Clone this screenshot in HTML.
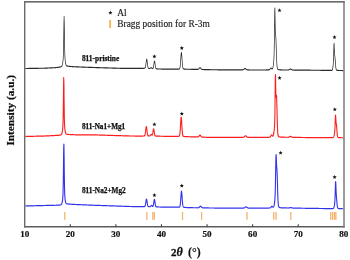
<!DOCTYPE html><html><head><meta charset="utf-8"><style>html,body{margin:0;padding:0;background:#fff;}svg{display:block;}text{font-family:"Liberation Serif","Times New Roman",serif;}</style></head><body>
<svg width="350" height="260" viewBox="0 0 350 260">
<rect width="350" height="260" fill="#fff"/>
<defs><filter id="bl" x="-5%" y="-5%" width="110%" height="110%"><feGaussianBlur stdDeviation="0.35"/></filter></defs>
<g filter="url(#bl)">
<polyline transform="scale(0.6250,1)" fill="none" stroke="#2a2a2a" stroke-width="1.15" stroke-linejoin="round" points="40.48,68.49 40.80,68.49 41.12,68.49 41.44,68.48 41.76,68.48 42.08,68.48 42.40,68.48 42.72,68.47 43.04,68.47 43.36,68.47 43.68,68.46 44.00,68.46 44.32,68.46 44.64,68.45 44.96,68.45 45.28,68.45 45.60,68.45 45.92,68.44 46.24,68.44 46.56,68.44 46.88,68.43 47.20,68.43 47.52,68.43 47.84,68.42 48.16,68.42 48.48,68.42 48.80,68.41 49.12,68.41 49.44,68.41 49.76,68.41 50.08,68.40 50.40,68.40 50.72,68.40 51.04,68.39 51.36,68.39 51.68,68.39 52.00,68.38 52.32,68.38 52.64,68.38 52.96,68.38 53.28,68.37 53.60,68.37 53.92,68.37 54.24,68.36 54.56,68.36 54.88,68.36 55.20,68.35 55.52,68.35 55.84,68.35 56.16,68.35 56.48,68.34 56.80,68.34 57.12,68.34 57.44,68.33 57.76,68.33 58.08,68.33 58.40,68.32 58.72,68.32 59.04,68.32 59.36,68.31 59.68,68.31 60.00,68.31 60.32,68.31 60.64,68.30 60.96,68.30 61.28,68.30 61.60,68.29 61.92,68.29 62.24,68.29 62.56,68.28 62.88,68.28 63.20,68.28 63.52,68.27 63.84,68.27 64.16,68.27 64.48,68.27 64.80,68.26 65.12,68.26 65.44,68.26 65.76,68.25 66.08,68.25 66.40,68.25 66.72,68.24 67.04,68.24 67.36,68.24 67.68,68.23 68.00,68.23 68.32,68.23 68.64,68.23 68.96,68.22 69.28,68.22 69.60,68.22 69.92,68.21 70.24,68.21 70.56,68.21 70.88,68.20 71.20,68.20 71.52,68.20 71.84,68.19 72.16,68.19 72.48,68.18 72.80,68.17 73.12,68.16 73.44,68.15 73.76,68.14 74.08,68.13 74.40,68.12 74.72,68.11 75.04,68.10 75.36,68.09 75.68,68.08 76.00,68.07 76.32,68.06 76.64,68.04 76.96,68.03 77.28,68.02 77.60,68.01 77.92,68.00 78.24,67.99 78.56,67.98 78.88,67.97 79.20,67.96 79.52,67.95 79.84,67.94 80.16,67.93 80.48,67.92 80.80,67.91 81.12,67.90 81.44,67.89 81.76,67.88 82.08,67.87 82.40,67.86 82.72,67.85 83.04,67.84 83.36,67.83 83.68,67.82 84.00,67.81 84.32,67.79 84.64,67.78 84.96,67.77 85.28,67.76 85.60,67.75 85.92,67.74 86.24,67.73 86.56,67.72 86.88,67.71 87.20,67.70 87.52,67.69 87.84,67.67 88.16,67.66 88.48,67.64 88.80,67.61 89.12,67.59 89.44,67.57 89.76,67.55 90.08,67.53 90.40,67.51 90.72,67.48 91.04,67.46 91.36,67.44 91.68,67.41 92.00,67.39 92.32,67.37 92.64,67.34 92.96,67.32 93.28,67.29 93.60,67.27 93.92,67.24 94.24,67.22 94.56,67.19 94.88,67.16 95.20,67.13 95.52,67.10 95.84,67.07 96.16,67.02 96.48,66.97 96.80,66.91 97.12,66.84 97.44,66.77 97.76,66.69 98.08,66.59 98.40,66.46 98.72,66.27 99.04,66.00 99.36,65.59 99.68,65.00 100.00,64.17 100.32,63.05 100.64,61.59 100.96,59.65 101.28,56.51 101.60,50.20 101.92,38.55 102.24,24.02 102.56,16.65 102.88,23.99 103.20,38.47 103.52,50.07 103.84,56.34 104.16,59.43 104.48,61.33 104.80,62.74 105.12,63.81 105.44,64.60 105.76,65.14 106.08,65.50 106.40,65.73 106.72,65.87 107.04,65.95 107.36,66.02 107.68,66.07 108.00,66.12 108.32,66.15 108.64,66.18 108.96,66.21 109.28,66.24 109.60,66.26 109.92,66.29 110.24,66.31 110.56,66.33 110.88,66.35 111.20,66.37 111.52,66.39 111.84,66.41 112.16,66.42 112.48,66.44 112.80,66.46 113.12,66.47 113.44,66.49 113.76,66.50 114.08,66.52 114.40,66.53 114.72,66.55 115.04,66.56 115.36,66.58 115.68,66.59 116.00,66.61 116.32,66.62 116.64,66.63 116.96,66.65 117.28,66.66 117.60,66.68 117.92,66.69 118.24,66.70 118.56,66.72 118.88,66.73 119.20,66.74 119.52,66.76 119.84,66.77 120.16,66.78 120.48,66.79 120.80,66.80 121.12,66.81 121.44,66.82 121.76,66.83 122.08,66.83 122.40,66.84 122.72,66.85 123.04,66.86 123.36,66.87 123.68,66.88 124.00,66.88 124.32,66.89 124.64,66.90 124.96,66.91 125.28,66.92 125.60,66.93 125.92,66.94 126.24,66.94 126.56,66.95 126.88,66.96 127.20,66.97 127.52,66.98 127.84,66.98 128.16,66.99 128.48,67.00 128.80,67.01 129.12,67.02 129.44,67.03 129.76,67.03 130.08,67.04 130.40,67.05 130.72,67.06 131.04,67.07 131.36,67.08 131.68,67.08 132.00,67.09 132.32,67.10 132.64,67.11 132.96,67.12 133.28,67.12 133.60,67.13 133.92,67.14 134.24,67.15 134.56,67.16 134.88,67.16 135.20,67.17 135.52,67.18 135.84,67.19 136.16,67.20 136.48,67.20 136.80,67.21 137.12,67.22 137.44,67.22 137.76,67.23 138.08,67.24 138.40,67.24 138.72,67.25 139.04,67.26 139.36,67.26 139.68,67.27 140.00,67.28 140.32,67.28 140.64,67.29 140.96,67.30 141.28,67.30 141.60,67.31 141.92,67.32 142.24,67.33 142.56,67.33 142.88,67.34 143.20,67.35 143.52,67.35 143.84,67.36 144.16,67.37 144.48,67.37 144.80,67.38 145.12,67.39 145.44,67.39 145.76,67.40 146.08,67.41 146.40,67.41 146.72,67.42 147.04,67.43 147.36,67.43 147.68,67.44 148.00,67.45 148.32,67.45 148.64,67.46 148.96,67.47 149.28,67.47 149.60,67.48 149.92,67.49 150.24,67.49 150.56,67.50 150.88,67.51 151.20,67.51 151.52,67.52 151.84,67.53 152.16,67.53 152.48,67.54 152.80,67.55 153.12,67.55 153.44,67.56 153.76,67.57 154.08,67.57 154.40,67.58 154.72,67.59 155.04,67.59 155.36,67.60 155.68,67.61 156.00,67.61 156.32,67.62 156.64,67.63 156.96,67.63 157.28,67.64 157.60,67.65 157.92,67.65 158.24,67.66 158.56,67.67 158.88,67.67 159.20,67.68 159.52,67.69 159.84,67.69 160.16,67.70 160.48,67.71 160.80,67.71 161.12,67.72 161.44,67.72 161.76,67.73 162.08,67.74 162.40,67.74 162.72,67.75 163.04,67.75 163.36,67.76 163.68,67.77 164.00,67.77 164.32,67.78 164.64,67.78 164.96,67.79 165.28,67.80 165.60,67.80 165.92,67.81 166.24,67.81 166.56,67.82 166.88,67.83 167.20,67.83 167.52,67.84 167.84,67.84 168.16,67.85 168.48,67.86 168.80,67.86 169.12,67.87 169.44,67.87 169.76,67.88 170.08,67.89 170.40,67.89 170.72,67.90 171.04,67.90 171.36,67.91 171.68,67.92 172.00,67.92 172.32,67.93 172.64,67.93 172.96,67.94 173.28,67.95 173.60,67.95 173.92,67.96 174.24,67.96 174.56,67.97 174.88,67.98 175.20,67.98 175.52,67.99 175.84,67.99 176.16,68.00 176.48,68.01 176.80,68.01 177.12,68.02 177.44,68.02 177.76,68.03 178.08,68.04 178.40,68.04 178.72,68.05 179.04,68.05 179.36,68.06 179.68,68.07 180.00,68.07 180.32,68.08 180.64,68.08 180.96,68.09 181.28,68.10 181.60,68.10 181.92,68.11 182.24,68.11 182.56,68.12 182.88,68.13 183.20,68.13 183.52,68.14 183.84,68.14 184.16,68.15 184.48,68.16 184.80,68.16 185.12,68.17 185.44,68.17 185.76,68.18 186.08,68.19 186.40,68.19 186.72,68.20 187.04,68.20 187.36,68.21 187.68,68.22 188.00,68.22 188.32,68.23 188.64,68.23 188.96,68.24 189.28,68.25 189.60,68.25 189.92,68.26 190.24,68.26 190.56,68.27 190.88,68.28 191.20,68.28 191.52,68.29 191.84,68.29 192.16,68.30 192.48,68.30 192.80,68.30 193.12,68.30 193.44,68.30 193.76,68.30 194.08,68.30 194.40,68.30 194.72,68.30 195.04,68.30 195.36,68.30 195.68,68.31 196.00,68.31 196.32,68.31 196.64,68.31 196.96,68.31 197.28,68.31 197.60,68.31 197.92,68.31 198.24,68.31 198.56,68.31 198.88,68.31 199.20,68.31 199.52,68.31 199.84,68.32 200.16,68.32 200.48,68.32 200.80,68.32 201.12,68.32 201.44,68.32 201.76,68.32 202.08,68.32 202.40,68.32 202.72,68.32 203.04,68.32 203.36,68.32 203.68,68.32 204.00,68.33 204.32,68.33 204.64,68.33 204.96,68.33 205.28,68.33 205.60,68.33 205.92,68.33 206.24,68.33 206.56,68.33 206.88,68.33 207.20,68.33 207.52,68.33 207.84,68.33 208.16,68.33 208.48,68.34 208.80,68.34 209.12,68.34 209.44,68.34 209.76,68.34 210.08,68.34 210.40,68.34 210.72,68.34 211.04,68.34 211.36,68.34 211.68,68.34 212.00,68.34 212.32,68.34 212.64,68.34 212.96,68.35 213.28,68.35 213.60,68.35 213.92,68.35 214.24,68.35 214.56,68.35 214.88,68.35 215.20,68.35 215.52,68.35 215.84,68.35 216.16,68.35 216.48,68.35 216.80,68.35 217.12,68.35 217.44,68.35 217.76,68.35 218.08,68.35 218.40,68.35 218.72,68.36 219.04,68.36 219.36,68.36 219.68,68.36 220.00,68.36 220.32,68.36 220.64,68.36 220.96,68.36 221.28,68.36 221.60,68.36 221.92,68.36 222.24,68.36 222.56,68.36 222.88,68.36 223.20,68.36 223.52,68.36 223.84,68.36 224.16,68.36 224.48,68.36 224.80,68.36 225.12,68.36 225.44,68.36 225.76,68.35 226.08,68.35 226.40,68.35 226.72,68.35 227.04,68.35 227.36,68.35 227.68,68.34 228.00,68.34 228.32,68.34 228.64,68.33 228.96,68.33 229.28,68.32 229.60,68.31 229.92,68.30 230.24,68.29 230.56,68.28 230.88,68.26 231.20,68.22 231.52,68.16 231.84,68.04 232.16,67.81 232.48,67.39 232.80,66.69 233.12,65.62 233.44,64.20 233.76,62.54 234.08,60.90 234.40,59.66 234.72,59.20 235.04,59.68 235.36,60.94 235.68,62.59 236.00,64.27 236.32,65.72 236.64,66.80 236.96,67.52 237.28,67.95 237.60,68.20 237.92,68.33 238.24,68.40 238.56,68.43 238.88,68.46 239.20,68.46 239.52,68.45 239.84,68.41 240.16,68.34 240.48,68.23 240.80,68.08 241.12,67.92 241.44,67.78 241.76,67.70 242.08,67.71 242.40,67.80 242.72,67.96 243.04,68.13 243.36,68.28 243.68,68.40 244.00,68.46 244.32,68.46 244.64,68.36 244.96,68.10 245.28,67.61 245.60,66.78 245.92,65.59 246.24,64.13 246.56,62.62 246.88,61.44 247.20,61.00 247.52,61.47 247.84,62.66 248.16,64.20 248.48,65.69 248.80,66.90 249.12,67.75 249.44,68.28 249.76,68.57 250.08,68.73 250.40,68.81 250.72,68.86 251.04,68.89 251.36,68.91 251.68,68.92 252.00,68.93 252.32,68.95 252.64,68.95 252.96,68.96 253.28,68.97 253.60,68.98 253.92,68.98 254.24,68.99 254.56,69.00 254.88,69.00 255.20,69.01 255.52,69.01 255.84,69.02 256.16,69.02 256.48,69.02 256.80,69.03 257.12,69.03 257.44,69.04 257.76,69.04 258.08,69.04 258.40,69.05 258.72,69.05 259.04,69.06 259.36,69.06 259.68,69.06 260.00,69.07 260.32,69.07 260.64,69.07 260.96,69.08 261.28,69.08 261.60,69.08 261.92,69.09 262.24,69.09 262.56,69.09 262.88,69.10 263.20,69.10 263.52,69.10 263.84,69.11 264.16,69.11 264.48,69.11 264.80,69.12 265.12,69.12 265.44,69.12 265.76,69.13 266.08,69.13 266.40,69.13 266.72,69.14 267.04,69.14 267.36,69.14 267.68,69.14 268.00,69.15 268.32,69.15 268.64,69.15 268.96,69.16 269.28,69.16 269.60,69.16 269.92,69.17 270.24,69.17 270.56,69.17 270.88,69.17 271.20,69.18 271.52,69.18 271.84,69.18 272.16,69.18 272.48,69.18 272.80,69.19 273.12,69.19 273.44,69.19 273.76,69.19 274.08,69.19 274.40,69.19 274.72,69.19 275.04,69.19 275.36,69.19 275.68,69.19 276.00,69.19 276.32,69.19 276.64,69.19 276.96,69.19 277.28,69.19 277.60,69.19 277.92,69.19 278.24,69.19 278.56,69.19 278.88,69.19 279.20,69.19 279.52,69.19 279.84,69.19 280.16,69.19 280.48,69.18 280.80,69.18 281.12,69.18 281.44,69.18 281.76,69.18 282.08,69.17 282.40,69.17 282.72,69.17 283.04,69.16 283.36,69.16 283.68,69.15 284.00,69.14 284.32,69.13 284.64,69.12 284.96,69.11 285.28,69.10 285.60,69.08 285.92,69.06 286.24,69.02 286.56,68.98 286.88,68.89 287.20,68.73 287.52,68.42 287.84,67.84 288.16,66.81 288.48,65.19 288.80,62.89 289.12,60.00 289.44,56.89 289.76,54.14 290.08,52.50 290.40,52.50 290.72,54.15 291.04,56.89 291.36,60.01 291.68,62.90 292.00,65.20 292.32,66.83 292.64,67.85 292.96,68.44 293.28,68.75 293.60,68.91 293.92,69.00 294.24,69.05 294.56,69.08 294.88,69.11 295.20,69.13 295.52,69.15 295.84,69.16 296.16,69.17 296.48,69.18 296.80,69.19 297.12,69.20 297.44,69.21 297.76,69.21 298.08,69.22 298.40,69.22 298.72,69.23 299.04,69.23 299.36,69.24 299.68,69.24 300.00,69.25 300.32,69.25 300.64,69.25 300.96,69.26 301.28,69.26 301.60,69.26 301.92,69.26 302.24,69.27 302.56,69.27 302.88,69.27 303.20,69.27 303.52,69.27 303.84,69.28 304.16,69.28 304.48,69.28 304.80,69.29 305.12,69.29 305.44,69.30 305.76,69.30 306.08,69.31 306.40,69.31 306.72,69.31 307.04,69.32 307.36,69.32 307.68,69.33 308.00,69.33 308.32,69.34 308.64,69.34 308.96,69.34 309.28,69.35 309.60,69.35 309.92,69.36 310.24,69.36 310.56,69.36 310.88,69.37 311.20,69.37 311.52,69.37 311.84,69.38 312.16,69.38 312.48,69.38 312.80,69.39 313.12,69.39 313.44,69.39 313.76,69.40 314.08,69.40 314.40,69.40 314.72,69.40 315.04,69.40 315.36,69.40 315.68,69.40 316.00,69.39 316.32,69.36 316.64,69.33 316.96,69.27 317.28,69.18 317.60,69.06 317.92,68.89 318.24,68.69 318.56,68.45 318.88,68.21 319.20,67.98 319.52,67.80 319.84,67.70 320.16,67.70 320.48,67.81 320.80,68.00 321.12,68.23 321.44,68.49 321.76,68.73 322.08,68.94 322.40,69.12 322.72,69.25 323.04,69.35 323.36,69.41 323.68,69.46 324.00,69.49 324.32,69.51 324.64,69.52 324.96,69.53 325.28,69.54 325.60,69.54 325.92,69.55 326.24,69.56 326.56,69.56 326.88,69.57 327.20,69.57 327.52,69.58 327.84,69.58 328.16,69.59 328.48,69.59 328.80,69.60 329.12,69.60 329.44,69.61 329.76,69.61 330.08,69.62 330.40,69.62 330.72,69.62 331.04,69.63 331.36,69.63 331.68,69.64 332.00,69.64 332.32,69.65 332.64,69.65 332.96,69.65 333.28,69.66 333.60,69.66 333.92,69.67 334.24,69.67 334.56,69.67 334.88,69.68 335.20,69.68 335.52,69.69 335.84,69.69 336.16,69.69 336.48,69.70 336.80,69.70 337.12,69.70 337.44,69.71 337.76,69.71 338.08,69.71 338.40,69.71 338.72,69.72 339.04,69.72 339.36,69.72 339.68,69.73 340.00,69.73 340.32,69.73 340.64,69.73 340.96,69.74 341.28,69.74 341.60,69.74 341.92,69.74 342.24,69.75 342.56,69.75 342.88,69.75 343.20,69.76 343.52,69.76 343.84,69.76 344.16,69.76 344.48,69.77 344.80,69.77 345.12,69.77 345.44,69.77 345.76,69.78 346.08,69.78 346.40,69.78 346.72,69.78 347.04,69.79 347.36,69.79 347.68,69.79 348.00,69.80 348.32,69.80 348.64,69.80 348.96,69.80 349.28,69.81 349.60,69.81 349.92,69.81 350.24,69.81 350.56,69.82 350.88,69.82 351.20,69.82 351.52,69.82 351.84,69.83 352.16,69.83 352.48,69.83 352.80,69.84 353.12,69.84 353.44,69.84 353.76,69.84 354.08,69.85 354.40,69.85 354.72,69.85 355.04,69.85 355.36,69.86 355.68,69.86 356.00,69.86 356.32,69.86 356.64,69.87 356.96,69.87 357.28,69.87 357.60,69.88 357.92,69.88 358.24,69.88 358.56,69.88 358.88,69.89 359.20,69.89 359.52,69.89 359.84,69.89 360.16,69.90 360.48,69.90 360.80,69.90 361.12,69.90 361.44,69.90 361.76,69.90 362.08,69.90 362.40,69.90 362.72,69.90 363.04,69.90 363.36,69.90 363.68,69.90 364.00,69.90 364.32,69.90 364.64,69.90 364.96,69.90 365.28,69.90 365.60,69.90 365.92,69.91 366.24,69.91 366.56,69.91 366.88,69.91 367.20,69.91 367.52,69.91 367.84,69.91 368.16,69.91 368.48,69.91 368.80,69.91 369.12,69.91 369.44,69.91 369.76,69.91 370.08,69.91 370.40,69.91 370.72,69.91 371.04,69.91 371.36,69.91 371.68,69.91 372.00,69.92 372.32,69.92 372.64,69.92 372.96,69.92 373.28,69.92 373.60,69.92 373.92,69.92 374.24,69.92 374.56,69.92 374.88,69.92 375.20,69.92 375.52,69.92 375.84,69.92 376.16,69.92 376.48,69.92 376.80,69.92 377.12,69.92 377.44,69.92 377.76,69.92 378.08,69.92 378.40,69.92 378.72,69.92 379.04,69.92 379.36,69.93 379.68,69.93 380.00,69.93 380.32,69.93 380.64,69.93 380.96,69.93 381.28,69.93 381.60,69.93 381.92,69.93 382.24,69.93 382.56,69.93 382.88,69.93 383.20,69.93 383.52,69.93 383.84,69.93 384.16,69.93 384.48,69.93 384.80,69.93 385.12,69.92 385.44,69.92 385.76,69.92 386.08,69.92 386.40,69.92 386.72,69.91 387.04,69.90 387.36,69.89 387.68,69.88 388.00,69.85 388.32,69.81 388.64,69.76 388.96,69.68 389.28,69.59 389.60,69.48 389.92,69.34 390.24,69.19 390.56,69.04 390.88,68.89 391.20,68.75 391.52,68.65 391.84,68.60 392.16,68.60 392.48,68.65 392.80,68.76 393.12,68.89 393.44,69.04 393.76,69.20 394.08,69.35 394.40,69.48 394.72,69.60 395.04,69.69 395.36,69.77 395.68,69.82 396.00,69.86 396.32,69.89 396.64,69.91 396.96,69.92 397.28,69.93 397.60,69.93 397.92,69.94 398.24,69.94 398.56,69.94 398.88,69.95 399.20,69.95 399.52,69.95 399.84,69.95 400.16,69.95 400.48,69.95 400.80,69.95 401.12,69.95 401.44,69.96 401.76,69.96 402.08,69.96 402.40,69.96 402.72,69.96 403.04,69.96 403.36,69.96 403.68,69.96 404.00,69.96 404.32,69.96 404.64,69.96 404.96,69.96 405.28,69.96 405.60,69.97 405.92,69.97 406.24,69.97 406.56,69.97 406.88,69.97 407.20,69.97 407.52,69.97 407.84,69.97 408.16,69.97 408.48,69.97 408.80,69.97 409.12,69.97 409.44,69.97 409.76,69.97 410.08,69.97 410.40,69.97 410.72,69.97 411.04,69.97 411.36,69.97 411.68,69.97 412.00,69.97 412.32,69.97 412.64,69.97 412.96,69.97 413.28,69.97 413.60,69.97 413.92,69.97 414.24,69.97 414.56,69.97 414.88,69.97 415.20,69.97 415.52,69.97 415.84,69.97 416.16,69.97 416.48,69.97 416.80,69.97 417.12,69.97 417.44,69.97 417.76,69.97 418.08,69.97 418.40,69.97 418.72,69.97 419.04,69.97 419.36,69.97 419.68,69.97 420.00,69.97 420.32,69.97 420.64,69.97 420.96,69.97 421.28,69.97 421.60,69.97 421.92,69.97 422.24,69.96 422.56,69.96 422.88,69.96 423.20,69.96 423.52,69.96 423.84,69.96 424.16,69.96 424.48,69.95 424.80,69.95 425.12,69.95 425.44,69.95 425.76,69.94 426.08,69.94 426.40,69.94 426.72,69.93 427.04,69.93 427.36,69.93 427.68,69.92 428.00,69.92 428.32,69.91 428.64,69.90 428.96,69.90 429.28,69.89 429.60,69.88 429.92,69.86 430.24,69.83 430.56,69.79 430.88,69.73 431.20,69.62 431.52,69.46 431.84,69.23 432.16,68.95 432.48,68.64 432.80,68.33 433.12,68.10 433.44,68.00 433.76,68.05 434.08,68.22 434.40,68.45 434.72,68.68 435.04,68.85 435.36,68.90 435.68,68.82 436.00,68.57 436.32,68.11 436.64,67.41 436.96,66.43 437.28,65.14 437.60,63.52 437.92,61.55 438.24,59.00 438.56,54.58 438.88,45.04 439.20,28.19 439.52,10.95 439.84,8.00 440.16,19.25 440.48,30.10 440.80,34.34 441.12,35.49 441.44,37.94 441.76,42.92 442.08,49.35 442.40,55.70 442.72,60.91 443.04,64.56 443.36,66.83 443.68,68.10 444.00,68.77 444.32,69.12 444.64,69.32 444.96,69.44 445.28,69.53 445.60,69.60 445.92,69.65 446.24,69.69 446.56,69.73 446.88,69.76 447.20,69.78 447.52,69.80 447.84,69.83 448.16,69.84 448.48,69.86 448.80,69.87 449.12,69.89 449.44,69.90 449.76,69.91 450.08,69.92 450.40,69.93 450.72,69.93 451.04,69.94 451.36,69.95 451.68,69.95 452.00,69.96 452.32,69.96 452.64,69.97 452.96,69.97 453.28,69.98 453.60,69.98 453.92,69.98 454.24,69.99 454.56,69.99 454.88,69.99 455.20,70.00 455.52,70.00 455.84,70.00 456.16,70.00 456.48,70.01 456.80,70.01 457.12,70.01 457.44,70.01 457.76,70.01 458.08,70.01 458.40,70.02 458.72,70.02 459.04,70.02 459.36,70.02 459.68,70.01 460.00,70.01 460.32,70.01 460.64,70.00 460.96,69.98 461.28,69.96 461.60,69.93 461.92,69.88 462.24,69.81 462.56,69.73 462.88,69.63 463.20,69.51 463.52,69.39 463.84,69.28 464.16,69.19 464.48,69.12 464.80,69.10 465.12,69.12 465.44,69.19 465.76,69.29 466.08,69.40 466.40,69.52 466.72,69.64 467.04,69.74 467.36,69.83 467.68,69.90 468.00,69.95 468.32,69.98 468.64,70.01 468.96,70.03 469.28,70.04 469.60,70.05 469.92,70.05 470.24,70.05 470.56,70.06 470.88,70.06 471.20,70.06 471.52,70.06 471.84,70.06 472.16,70.07 472.48,70.07 472.80,70.07 473.12,70.07 473.44,70.07 473.76,70.07 474.08,70.07 474.40,70.07 474.72,70.07 475.04,70.08 475.36,70.08 475.68,70.08 476.00,70.08 476.32,70.08 476.64,70.08 476.96,70.08 477.28,70.08 477.60,70.08 477.92,70.08 478.24,70.08 478.56,70.08 478.88,70.09 479.20,70.09 479.52,70.09 479.84,70.09 480.16,70.09 480.48,70.09 480.80,70.09 481.12,70.10 481.44,70.10 481.76,70.10 482.08,70.10 482.40,70.10 482.72,70.11 483.04,70.11 483.36,70.11 483.68,70.11 484.00,70.11 484.32,70.12 484.64,70.12 484.96,70.12 485.28,70.12 485.60,70.13 485.92,70.13 486.24,70.13 486.56,70.13 486.88,70.13 487.20,70.14 487.52,70.14 487.84,70.14 488.16,70.14 488.48,70.14 488.80,70.15 489.12,70.15 489.44,70.15 489.76,70.15 490.08,70.15 490.40,70.16 490.72,70.16 491.04,70.16 491.36,70.16 491.68,70.16 492.00,70.17 492.32,70.17 492.64,70.17 492.96,70.17 493.28,70.17 493.60,70.18 493.92,70.18 494.24,70.18 494.56,70.18 494.88,70.18 495.20,70.19 495.52,70.19 495.84,70.19 496.16,70.19 496.48,70.19 496.80,70.20 497.12,70.20 497.44,70.20 497.76,70.20 498.08,70.20 498.40,70.21 498.72,70.21 499.04,70.21 499.36,70.21 499.68,70.21 500.00,70.22 500.32,70.22 500.64,70.22 500.96,70.22 501.28,70.22 501.60,70.23 501.92,70.23 502.24,70.23 502.56,70.23 502.88,70.23 503.20,70.24 503.52,70.24 503.84,70.24 504.16,70.24 504.48,70.24 504.80,70.25 505.12,70.25 505.44,70.25 505.76,70.25 506.08,70.25 506.40,70.26 506.72,70.26 507.04,70.26 507.36,70.26 507.68,70.26 508.00,70.26 508.32,70.27 508.64,70.27 508.96,70.27 509.28,70.27 509.60,70.27 509.92,70.28 510.24,70.28 510.56,70.28 510.88,70.28 511.20,70.28 511.52,70.28 511.84,70.29 512.16,70.29 512.48,70.29 512.80,70.29 513.12,70.30 513.44,70.30 513.76,70.30 514.08,70.30 514.40,70.30 514.72,70.31 515.04,70.31 515.36,70.31 515.68,70.31 516.00,70.31 516.32,70.32 516.64,70.32 516.96,70.32 517.28,70.32 517.60,70.33 517.92,70.33 518.24,70.33 518.56,70.33 518.88,70.33 519.20,70.33 519.52,70.34 519.84,70.34 520.16,70.34 520.48,70.34 520.80,70.34 521.12,70.34 521.44,70.34 521.76,70.35 522.08,70.35 522.40,70.35 522.72,70.35 523.04,70.35 523.36,70.35 523.68,70.35 524.00,70.35 524.32,70.35 524.64,70.35 524.96,70.35 525.28,70.35 525.60,70.35 525.92,70.35 526.24,70.35 526.56,70.34 526.88,70.34 527.20,70.34 527.52,70.33 527.84,70.33 528.16,70.32 528.48,70.32 528.80,70.32 529.12,70.32 529.44,70.33 529.76,70.35 530.08,70.39 530.40,70.45 530.72,70.48 531.04,70.46 531.36,70.32 531.68,69.97 532.00,69.36 532.32,68.46 532.64,67.28 532.96,65.78 533.28,63.49 533.60,59.16 533.92,51.93 534.24,44.68 534.56,43.40 534.88,48.06 535.20,52.75 535.52,55.05 535.84,56.40 536.16,58.41 536.48,61.17 536.80,64.04 537.12,66.44 537.44,68.12 537.76,69.14 538.08,69.70 538.40,69.98 538.72,70.13 539.04,70.21 539.36,70.27 539.68,70.31 540.00,70.34 540.32,70.36 540.64,70.38 540.96,70.40 541.28,70.41 541.60,70.42 541.92,70.44 542.24,70.45 542.56,70.46 542.88,70.47 543.20,70.47 543.52,70.48 543.84,70.49 544.16,70.50 544.48,70.50 544.80,70.51 545.12,70.51 545.44,70.52 545.76,70.52 546.08,70.53 546.40,70.53 546.72,70.54 547.04,70.54 547.36,70.55 547.68,70.55 548.00,70.55 548.32,70.56 548.64,70.56 548.96,70.57 549.28,70.57"/>
<polyline transform="scale(0.9091,1)" fill="none" stroke="#ff1c1c" stroke-width="1.2" stroke-linejoin="round" points="27.83,136.49 28.05,136.49 28.27,136.48 28.49,136.48 28.71,136.47 28.93,136.47 29.15,136.46 29.37,136.46 29.59,136.45 29.81,136.45 30.03,136.44 30.25,136.44 30.47,136.43 30.69,136.43 30.91,136.42 31.13,136.42 31.35,136.41 31.57,136.41 31.79,136.40 32.01,136.39 32.23,136.39 32.45,136.38 32.67,136.38 32.89,136.37 33.11,136.37 33.33,136.36 33.55,136.36 33.77,136.35 33.99,136.35 34.21,136.34 34.43,136.34 34.65,136.33 34.87,136.33 35.09,136.32 35.31,136.32 35.53,136.31 35.75,136.31 35.97,136.30 36.19,136.30 36.41,136.29 36.63,136.29 36.85,136.28 37.07,136.28 37.29,136.27 37.51,136.27 37.73,136.26 37.95,136.26 38.17,136.25 38.39,136.25 38.61,136.24 38.83,136.24 39.05,136.23 39.27,136.23 39.49,136.22 39.71,136.22 39.93,136.21 40.15,136.21 40.37,136.20 40.59,136.20 40.81,136.19 41.03,136.19 41.25,136.18 41.47,136.18 41.69,136.17 41.91,136.17 42.13,136.16 42.35,136.16 42.57,136.15 42.79,136.15 43.01,136.14 43.23,136.14 43.45,136.13 43.67,136.13 43.89,136.12 44.11,136.12 44.33,136.11 44.55,136.11 44.77,136.10 44.99,136.10 45.21,136.09 45.43,136.09 45.65,136.08 45.87,136.08 46.09,136.07 46.31,136.07 46.53,136.06 46.75,136.06 46.97,136.05 47.19,136.05 47.41,136.04 47.63,136.04 47.85,136.03 48.07,136.03 48.29,136.02 48.51,136.02 48.73,136.01 48.95,136.01 49.17,136.00 49.39,135.99 49.61,135.99 49.83,135.98 50.05,135.97 50.27,135.96 50.49,135.95 50.71,135.94 50.93,135.93 51.15,135.92 51.37,135.91 51.59,135.90 51.81,135.89 52.03,135.88 52.25,135.87 52.47,135.86 52.69,135.85 52.91,135.84 53.13,135.83 53.35,135.82 53.57,135.82 53.79,135.81 54.01,135.80 54.23,135.79 54.45,135.78 54.67,135.77 54.89,135.76 55.11,135.75 55.33,135.74 55.55,135.73 55.77,135.72 55.99,135.71 56.21,135.70 56.43,135.69 56.65,135.68 56.87,135.67 57.09,135.66 57.31,135.65 57.53,135.64 57.75,135.63 57.97,135.62 58.19,135.61 58.41,135.60 58.63,135.59 58.85,135.58 59.07,135.57 59.29,135.56 59.51,135.55 59.73,135.54 59.95,135.53 60.17,135.51 60.39,135.50 60.61,135.49 60.83,135.48 61.05,135.47 61.27,135.46 61.49,135.45 61.71,135.44 61.93,135.43 62.15,135.41 62.37,135.40 62.59,135.39 62.81,135.38 63.03,135.36 63.25,135.35 63.47,135.34 63.69,135.32 63.91,135.31 64.13,135.29 64.35,135.28 64.57,135.26 64.79,135.24 65.01,135.22 65.23,135.20 65.45,135.18 65.67,135.16 65.89,135.13 66.11,135.09 66.33,135.04 66.55,134.97 66.77,134.90 66.99,134.81 67.21,134.69 67.43,134.52 67.65,134.27 67.87,133.91 68.09,133.37 68.31,132.61 68.53,131.56 68.75,130.20 68.97,128.46 69.19,125.92 69.41,120.79 69.63,109.44 69.85,91.44 70.07,77.70 70.29,82.86 70.51,100.79 70.73,115.96 70.95,123.69 71.17,127.12 71.39,129.11 71.61,130.61 71.83,131.77 72.05,132.62 72.27,133.22 72.49,133.63 72.71,133.88 72.93,134.04 73.15,134.14 73.37,134.20 73.59,134.24 73.81,134.28 74.03,134.31 74.25,134.34 74.47,134.36 74.69,134.39 74.91,134.41 75.13,134.42 75.35,134.44 75.57,134.46 75.79,134.47 76.01,134.49 76.23,134.50 76.45,134.52 76.67,134.53 76.89,134.54 77.11,134.55 77.33,134.56 77.55,134.57 77.77,134.58 77.99,134.59 78.21,134.60 78.43,134.61 78.65,134.62 78.87,134.63 79.09,134.64 79.31,134.65 79.53,134.66 79.75,134.67 79.97,134.68 80.19,134.69 80.41,134.70 80.63,134.71 80.85,134.72 81.07,134.72 81.29,134.73 81.51,134.74 81.73,134.75 81.95,134.76 82.17,134.77 82.39,134.77 82.61,134.78 82.83,134.78 83.05,134.78 83.27,134.78 83.49,134.79 83.71,134.79 83.93,134.79 84.15,134.79 84.37,134.79 84.59,134.79 84.81,134.80 85.03,134.80 85.25,134.80 85.47,134.80 85.69,134.80 85.91,134.80 86.13,134.80 86.35,134.80 86.57,134.81 86.79,134.81 87.01,134.81 87.23,134.81 87.45,134.81 87.67,134.81 87.89,134.81 88.11,134.81 88.33,134.82 88.55,134.82 88.77,134.82 88.99,134.82 89.21,134.82 89.43,134.82 89.65,134.82 89.87,134.82 90.09,134.83 90.31,134.83 90.53,134.83 90.75,134.83 90.97,134.83 91.19,134.83 91.41,134.83 91.63,134.83 91.85,134.84 92.07,134.84 92.29,134.84 92.51,134.84 92.73,134.84 92.95,134.84 93.17,134.84 93.39,134.84 93.61,134.84 93.83,134.85 94.05,134.85 94.27,134.85 94.49,134.85 94.71,134.85 94.93,134.85 95.15,134.85 95.37,134.85 95.59,134.85 95.81,134.85 96.03,134.86 96.25,134.86 96.47,134.86 96.69,134.86 96.91,134.86 97.13,134.86 97.35,134.86 97.57,134.86 97.79,134.86 98.01,134.87 98.23,134.87 98.45,134.87 98.67,134.87 98.89,134.87 99.11,134.87 99.33,134.87 99.55,134.87 99.77,134.87 99.99,134.88 100.21,134.88 100.43,134.88 100.65,134.88 100.87,134.88 101.09,134.88 101.31,134.88 101.53,134.88 101.75,134.88 101.97,134.88 102.19,134.89 102.41,134.89 102.63,134.89 102.85,134.89 103.07,134.89 103.29,134.89 103.51,134.89 103.73,134.89 103.95,134.89 104.17,134.89 104.39,134.90 104.61,134.90 104.83,134.91 105.05,134.91 105.27,134.92 105.49,134.92 105.71,134.93 105.93,134.94 106.15,134.94 106.37,134.95 106.59,134.96 106.81,134.96 107.03,134.97 107.25,134.98 107.47,134.98 107.69,134.99 107.91,134.99 108.13,135.00 108.35,135.01 108.57,135.01 108.79,135.02 109.01,135.03 109.23,135.03 109.45,135.04 109.67,135.04 109.89,135.05 110.11,135.06 110.33,135.06 110.55,135.07 110.77,135.08 110.99,135.08 111.21,135.09 111.43,135.09 111.65,135.10 111.87,135.11 112.09,135.11 112.31,135.12 112.53,135.13 112.75,135.13 112.97,135.14 113.19,135.15 113.41,135.15 113.63,135.16 113.85,135.16 114.07,135.17 114.29,135.18 114.51,135.18 114.73,135.19 114.95,135.20 115.17,135.20 115.39,135.21 115.61,135.21 115.83,135.22 116.05,135.23 116.27,135.23 116.49,135.24 116.71,135.25 116.93,135.25 117.15,135.26 117.37,135.26 117.59,135.27 117.81,135.28 118.03,135.28 118.25,135.29 118.47,135.30 118.69,135.30 118.91,135.31 119.13,135.32 119.35,135.32 119.57,135.33 119.79,135.33 120.01,135.34 120.23,135.35 120.45,135.35 120.67,135.36 120.89,135.37 121.11,135.37 121.33,135.38 121.55,135.38 121.77,135.39 121.99,135.40 122.21,135.40 122.43,135.41 122.65,135.42 122.87,135.42 123.09,135.43 123.31,135.43 123.53,135.44 123.75,135.45 123.97,135.45 124.19,135.46 124.41,135.47 124.63,135.47 124.85,135.48 125.07,135.48 125.29,135.49 125.51,135.50 125.73,135.50 125.95,135.51 126.17,135.52 126.39,135.52 126.61,135.53 126.83,135.53 127.05,135.54 127.27,135.55 127.49,135.55 127.71,135.56 127.93,135.57 128.15,135.57 128.37,135.58 128.59,135.59 128.81,135.59 129.03,135.60 129.25,135.60 129.47,135.61 129.69,135.62 129.91,135.62 130.13,135.63 130.35,135.64 130.57,135.64 130.79,135.65 131.01,135.65 131.23,135.66 131.45,135.67 131.67,135.67 131.89,135.68 132.11,135.69 132.33,135.69 132.55,135.70 132.77,135.70 132.99,135.71 133.21,135.72 133.43,135.72 133.65,135.73 133.87,135.74 134.09,135.74 134.31,135.75 134.53,135.75 134.75,135.76 134.97,135.77 135.19,135.77 135.41,135.78 135.63,135.79 135.85,135.79 136.07,135.80 136.29,135.80 136.51,135.81 136.73,135.82 136.95,135.82 137.17,135.83 137.39,135.84 137.61,135.84 137.83,135.85 138.05,135.85 138.27,135.86 138.49,135.87 138.71,135.87 138.93,135.88 139.15,135.89 139.37,135.89 139.59,135.90 139.81,135.90 140.03,135.91 140.25,135.92 140.47,135.92 140.69,135.93 140.91,135.94 141.13,135.94 141.35,135.95 141.57,135.95 141.79,135.96 142.01,135.97 142.23,135.97 142.45,135.98 142.67,135.98 142.89,135.99 143.11,135.99 143.33,136.00 143.55,136.00 143.77,136.00 143.99,136.00 144.21,136.00 144.43,136.00 144.65,136.00 144.87,136.01 145.09,136.01 145.31,136.01 145.53,136.01 145.75,136.01 145.97,136.01 146.19,136.01 146.41,136.01 146.63,136.02 146.85,136.02 147.07,136.02 147.29,136.02 147.51,136.02 147.73,136.02 147.95,136.02 148.17,136.03 148.39,136.03 148.61,136.03 148.83,136.03 149.05,136.03 149.27,136.03 149.49,136.03 149.71,136.03 149.93,136.03 150.15,136.04 150.37,136.04 150.59,136.04 150.81,136.04 151.03,136.04 151.25,136.04 151.47,136.04 151.69,136.04 151.91,136.04 152.13,136.04 152.35,136.04 152.57,136.05 152.79,136.05 153.01,136.05 153.23,136.05 153.45,136.05 153.67,136.05 153.89,136.05 154.11,136.05 154.33,136.05 154.55,136.05 154.77,136.05 154.99,136.05 155.21,136.05 155.43,136.05 155.65,136.04 155.87,136.04 156.09,136.04 156.31,136.04 156.53,136.03 156.75,136.03 156.97,136.03 157.19,136.02 157.41,136.01 157.63,136.00 157.85,135.99 158.07,135.98 158.29,135.96 158.51,135.92 158.73,135.86 158.95,135.73 159.17,135.49 159.39,135.05 159.61,134.31 159.83,133.20 160.05,131.72 160.27,129.98 160.49,128.28 160.71,126.99 160.93,126.50 161.15,126.99 161.37,128.28 161.59,129.99 161.81,131.72 162.03,133.20 162.25,134.31 162.47,135.05 162.69,135.49 162.91,135.74 163.13,135.86 163.35,135.92 163.57,135.96 163.79,135.97 164.01,135.98 164.23,135.97 164.45,135.93 164.67,135.86 164.89,135.74 165.11,135.56 165.33,135.30 165.55,135.01 165.77,134.71 165.99,134.49 166.21,134.40 166.43,134.47 166.65,134.67 166.87,134.92 167.09,135.12 167.31,135.19 167.53,135.02 167.75,134.52 167.97,133.64 168.19,132.42 168.41,131.00 168.63,129.70 168.85,128.90 169.07,128.91 169.29,129.72 169.51,131.04 169.73,132.48 169.95,133.76 170.17,134.71 170.39,135.34 170.61,135.71 170.83,135.90 171.05,136.00 171.27,136.05 171.49,136.08 171.71,136.09 171.93,136.11 172.15,136.12 172.37,136.13 172.59,136.14 172.81,136.14 173.03,136.15 173.25,136.16 173.47,136.17 173.69,136.17 173.91,136.18 174.13,136.18 174.35,136.19 174.57,136.19 174.79,136.20 175.01,136.20 175.23,136.21 175.45,136.21 175.67,136.21 175.89,136.22 176.11,136.22 176.33,136.22 176.55,136.23 176.77,136.23 176.99,136.24 177.21,136.24 177.43,136.24 177.65,136.25 177.87,136.25 178.09,136.25 178.31,136.26 178.53,136.26 178.75,136.26 178.97,136.27 179.19,136.27 179.41,136.27 179.63,136.27 179.85,136.28 180.07,136.28 180.29,136.28 180.51,136.29 180.73,136.29 180.95,136.29 181.17,136.30 181.39,136.30 181.61,136.30 181.83,136.30 182.05,136.31 182.27,136.31 182.49,136.31 182.71,136.32 182.93,136.32 183.15,136.32 183.37,136.32 183.59,136.33 183.81,136.33 184.03,136.33 184.25,136.34 184.47,136.34 184.69,136.34 184.91,136.34 185.13,136.35 185.35,136.35 185.57,136.35 185.79,136.35 186.01,136.36 186.23,136.36 186.45,136.36 186.67,136.36 186.89,136.37 187.11,136.37 187.33,136.37 187.55,136.37 187.77,136.38 187.99,136.38 188.21,136.38 188.43,136.38 188.65,136.39 188.87,136.39 189.09,136.39 189.31,136.39 189.53,136.39 189.75,136.40 189.97,136.40 190.19,136.40 190.41,136.40 190.63,136.40 190.85,136.40 191.07,136.41 191.29,136.41 191.51,136.41 191.73,136.41 191.95,136.41 192.17,136.41 192.39,136.41 192.61,136.41 192.83,136.41 193.05,136.41 193.27,136.41 193.49,136.41 193.71,136.41 193.93,136.41 194.15,136.40 194.37,136.40 194.59,136.39 194.81,136.39 195.03,136.38 195.25,136.37 195.47,136.36 195.69,136.35 195.91,136.34 196.13,136.32 196.35,136.30 196.57,136.26 196.79,136.21 197.01,136.12 197.23,135.94 197.45,135.59 197.67,134.92 197.89,133.74 198.11,131.88 198.33,129.24 198.55,125.92 198.77,122.34 198.99,119.19 199.21,117.30 199.43,117.30 199.65,119.20 199.87,122.36 200.09,125.95 200.31,129.28 200.53,131.94 200.75,133.81 200.97,134.99 201.19,135.67 201.41,136.04 201.63,136.23 201.85,136.33 202.07,136.39 202.29,136.43 202.51,136.46 202.73,136.49 202.95,136.52 203.17,136.54 203.39,136.55 203.61,136.57 203.83,136.58 204.05,136.60 204.27,136.61 204.49,136.62 204.71,136.63 204.93,136.64 205.15,136.65 205.37,136.66 205.59,136.67 205.81,136.68 206.03,136.68 206.25,136.69 206.47,136.70 206.69,136.71 206.91,136.71 207.13,136.72 207.35,136.73 207.57,136.73 207.79,136.74 208.01,136.75 208.23,136.75 208.45,136.76 208.67,136.77 208.89,136.77 209.11,136.78 209.33,136.78 209.55,136.79 209.77,136.80 209.99,136.80 210.21,136.81 210.43,136.82 210.65,136.82 210.87,136.83 211.09,136.84 211.31,136.84 211.53,136.85 211.75,136.86 211.97,136.86 212.19,136.87 212.41,136.87 212.63,136.88 212.85,136.89 213.07,136.89 213.29,136.90 213.51,136.90 213.73,136.91 213.95,136.91 214.17,136.92 214.39,136.93 214.61,136.93 214.83,136.94 215.05,136.94 215.27,136.95 215.49,136.95 215.71,136.96 215.93,136.96 216.15,136.96 216.37,136.97 216.59,136.97 216.81,136.97 217.03,136.97 217.25,136.96 217.47,136.94 217.69,136.90 217.91,136.84 218.13,136.75 218.35,136.62 218.57,136.45 218.79,136.23 219.01,135.98 219.23,135.73 219.45,135.49 219.67,135.30 219.89,135.20 220.11,135.21 220.33,135.32 220.55,135.52 220.77,135.77 220.99,136.04 221.21,136.30 221.43,136.53 221.65,136.71 221.87,136.85 222.09,136.96 222.31,137.03 222.53,137.08 222.75,137.11 222.97,137.13 223.19,137.15 223.41,137.16 223.63,137.17 223.85,137.18 224.07,137.19 224.29,137.19 224.51,137.20 224.73,137.21 224.95,137.22 225.17,137.22 225.39,137.23 225.61,137.24 225.83,137.24 226.05,137.25 226.27,137.26 226.49,137.26 226.71,137.27 226.93,137.28 227.15,137.28 227.37,137.29 227.59,137.30 227.81,137.30 228.03,137.31 228.25,137.32 228.47,137.32 228.69,137.33 228.91,137.33 229.13,137.34 229.35,137.35 229.57,137.35 229.79,137.36 230.01,137.37 230.23,137.37 230.45,137.38 230.67,137.38 230.89,137.39 231.11,137.39 231.33,137.39 231.55,137.39 231.77,137.39 231.99,137.39 232.21,137.39 232.43,137.39 232.65,137.39 232.87,137.39 233.09,137.39 233.31,137.39 233.53,137.39 233.75,137.39 233.97,137.39 234.19,137.39 234.41,137.39 234.63,137.39 234.85,137.39 235.07,137.39 235.29,137.39 235.51,137.39 235.73,137.39 235.95,137.39 236.17,137.39 236.39,137.39 236.61,137.39 236.83,137.39 237.05,137.39 237.27,137.39 237.49,137.39 237.71,137.39 237.93,137.39 238.15,137.39 238.37,137.39 238.59,137.40 238.81,137.40 239.03,137.40 239.25,137.40 239.47,137.40 239.69,137.40 239.91,137.40 240.13,137.40 240.35,137.40 240.57,137.40 240.79,137.40 241.01,137.40 241.23,137.40 241.45,137.40 241.67,137.40 241.89,137.40 242.11,137.40 242.33,137.40 242.55,137.40 242.77,137.40 242.99,137.40 243.21,137.40 243.43,137.40 243.65,137.40 243.87,137.40 244.09,137.40 244.31,137.40 244.53,137.40 244.75,137.40 244.97,137.40 245.19,137.40 245.41,137.40 245.63,137.40 245.85,137.40 246.07,137.40 246.29,137.40 246.51,137.40 246.73,137.40 246.95,137.40 247.17,137.40 247.39,137.40 247.61,137.40 247.83,137.40 248.05,137.40 248.27,137.40 248.49,137.40 248.71,137.40 248.93,137.40 249.15,137.40 249.37,137.40 249.59,137.40 249.81,137.40 250.03,137.40 250.25,137.40 250.47,137.40 250.69,137.40 250.91,137.40 251.13,137.40 251.35,137.40 251.57,137.41 251.79,137.41 252.01,137.41 252.23,137.41 252.45,137.41 252.67,137.41 252.89,137.41 253.11,137.41 253.33,137.41 253.55,137.41 253.77,137.41 253.99,137.41 254.21,137.41 254.43,137.41 254.65,137.41 254.87,137.41 255.09,137.41 255.31,137.41 255.53,137.41 255.75,137.41 255.97,137.42 256.19,137.42 256.41,137.42 256.63,137.42 256.85,137.42 257.07,137.42 257.29,137.42 257.51,137.42 257.73,137.42 257.95,137.42 258.17,137.42 258.39,137.42 258.61,137.42 258.83,137.42 259.05,137.42 259.27,137.42 259.49,137.42 259.71,137.42 259.93,137.42 260.15,137.42 260.37,137.42 260.59,137.42 260.81,137.42 261.03,137.43 261.25,137.43 261.47,137.43 261.69,137.43 261.91,137.43 262.13,137.43 262.35,137.43 262.57,137.43 262.79,137.43 263.01,137.43 263.23,137.43 263.45,137.43 263.67,137.43 263.89,137.43 264.11,137.43 264.33,137.43 264.55,137.43 264.77,137.43 264.99,137.42 265.21,137.42 265.43,137.42 265.65,137.42 265.87,137.42 266.09,137.42 266.31,137.41 266.53,137.40 266.75,137.39 266.97,137.38 267.19,137.35 267.41,137.32 267.63,137.26 267.85,137.19 268.07,137.10 268.29,136.98 268.51,136.84 268.73,136.67 268.95,136.50 269.17,136.32 269.39,136.15 269.61,136.02 269.83,135.93 270.05,135.90 270.27,135.93 270.49,136.02 270.71,136.16 270.93,136.32 271.15,136.50 271.37,136.68 271.59,136.84 271.81,136.99 272.03,137.11 272.25,137.20 272.47,137.27 272.69,137.33 272.91,137.37 273.13,137.39 273.35,137.41 273.57,137.42 273.79,137.43 274.01,137.43 274.23,137.44 274.45,137.44 274.67,137.44 274.89,137.45 275.11,137.45 275.33,137.45 275.55,137.45 275.77,137.45 275.99,137.45 276.21,137.45 276.43,137.45 276.65,137.46 276.87,137.46 277.09,137.46 277.31,137.46 277.53,137.46 277.75,137.46 277.97,137.46 278.19,137.46 278.41,137.46 278.63,137.46 278.85,137.46 279.07,137.46 279.29,137.46 279.51,137.47 279.73,137.47 279.95,137.47 280.17,137.47 280.39,137.47 280.61,137.47 280.83,137.47 281.05,137.47 281.27,137.47 281.49,137.47 281.71,137.47 281.93,137.47 282.15,137.47 282.37,137.47 282.59,137.47 282.81,137.47 283.03,137.47 283.25,137.47 283.47,137.47 283.69,137.47 283.91,137.47 284.13,137.47 284.35,137.47 284.57,137.47 284.79,137.47 285.01,137.47 285.23,137.47 285.45,137.47 285.67,137.47 285.89,137.47 286.11,137.47 286.33,137.47 286.55,137.47 286.77,137.47 286.99,137.46 287.21,137.46 287.43,137.46 287.65,137.46 287.87,137.45 288.09,137.45 288.31,137.45 288.53,137.45 288.75,137.44 288.97,137.44 289.19,137.44 289.41,137.44 289.63,137.43 289.85,137.43 290.07,137.43 290.29,137.42 290.51,137.42 290.73,137.42 290.95,137.41 291.17,137.41 291.39,137.41 291.61,137.40 291.83,137.40 292.05,137.40 292.27,137.39 292.49,137.39 292.71,137.38 292.93,137.38 293.15,137.37 293.37,137.37 293.59,137.36 293.81,137.36 294.03,137.35 294.25,137.35 294.47,137.34 294.69,137.33 294.91,137.32 295.13,137.31 295.35,137.30 295.57,137.29 295.79,137.28 296.01,137.27 296.23,137.24 296.45,137.21 296.67,137.16 296.89,137.08 297.11,136.94 297.33,136.74 297.55,136.45 297.77,136.10 297.99,135.70 298.21,135.32 298.43,135.03 298.65,134.90 298.87,134.97 299.09,135.19 299.31,135.50 299.53,135.80 299.75,136.03 299.97,136.15 300.19,136.10 300.41,135.87 300.63,135.42 300.85,134.73 301.07,133.75 301.29,132.46 301.51,130.84 301.73,128.90 301.95,126.53 302.17,122.74 302.39,114.13 302.61,96.94 302.83,77.73 303.05,74.50 303.27,86.88 303.49,96.56 303.71,97.61 303.93,95.41 304.15,95.40 304.37,99.54 304.59,106.90 304.81,115.31 305.03,122.88 305.25,128.59 305.47,132.32 305.69,134.46 305.91,135.59 306.13,136.15 306.35,136.44 306.57,136.61 306.79,136.72 307.01,136.80 307.23,136.87 307.45,136.92 307.67,136.96 307.89,136.99 308.11,137.02 308.33,137.05 308.55,137.07 308.77,137.09 308.99,137.11 309.21,137.12 309.43,137.14 309.65,137.15 309.87,137.16 310.09,137.17 310.31,137.18 310.53,137.18 310.75,137.19 310.97,137.19 311.19,137.20 311.41,137.20 311.63,137.21 311.85,137.21 312.07,137.21 312.29,137.22 312.51,137.22 312.73,137.22 312.95,137.22 313.17,137.22 313.39,137.23 313.61,137.23 313.83,137.23 314.05,137.24 314.27,137.24 314.49,137.25 314.71,137.25 314.93,137.25 315.15,137.26 315.37,137.26 315.59,137.26 315.81,137.26 316.03,137.26 316.25,137.26 316.47,137.26 316.69,137.25 316.91,137.24 317.13,137.22 317.35,137.19 317.57,137.14 317.79,137.08 318.01,137.00 318.23,136.90 318.45,136.79 318.67,136.68 318.89,136.57 319.11,136.48 319.33,136.42 319.55,136.40 319.77,136.43 319.99,136.49 320.21,136.59 320.43,136.70 320.65,136.82 320.87,136.94 321.09,137.04 321.31,137.13 321.53,137.20 321.75,137.25 321.97,137.29 322.19,137.32 322.41,137.33 322.63,137.35 322.85,137.36 323.07,137.36 323.29,137.37 323.51,137.37 323.73,137.38 323.95,137.38 324.17,137.38 324.39,137.39 324.61,137.39 324.83,137.39 325.05,137.40 325.27,137.40 325.49,137.40 325.71,137.41 325.93,137.41 326.15,137.41 326.37,137.41 326.59,137.42 326.81,137.42 327.03,137.42 327.25,137.43 327.47,137.43 327.69,137.43 327.91,137.43 328.13,137.44 328.35,137.44 328.57,137.44 328.79,137.44 329.01,137.45 329.23,137.45 329.45,137.45 329.67,137.45 329.89,137.46 330.11,137.46 330.33,137.46 330.55,137.46 330.77,137.47 330.99,137.47 331.21,137.47 331.43,137.47 331.65,137.48 331.87,137.48 332.09,137.48 332.31,137.48 332.53,137.49 332.75,137.49 332.97,137.49 333.19,137.49 333.41,137.50 333.63,137.50 333.85,137.50 334.07,137.50 334.29,137.51 334.51,137.51 334.73,137.51 334.95,137.51 335.17,137.52 335.39,137.52 335.61,137.52 335.83,137.52 336.05,137.52 336.27,137.53 336.49,137.53 336.71,137.53 336.93,137.53 337.15,137.54 337.37,137.54 337.59,137.54 337.81,137.54 338.03,137.55 338.25,137.55 338.47,137.55 338.69,137.55 338.91,137.56 339.13,137.56 339.35,137.56 339.57,137.56 339.79,137.56 340.01,137.57 340.23,137.57 340.45,137.57 340.67,137.57 340.89,137.58 341.11,137.58 341.33,137.58 341.55,137.58 341.77,137.59 341.99,137.59 342.21,137.59 342.43,137.59 342.65,137.59 342.87,137.60 343.09,137.60 343.31,137.60 343.53,137.60 343.75,137.61 343.97,137.61 344.19,137.61 344.41,137.61 344.63,137.61 344.85,137.62 345.07,137.62 345.29,137.62 345.51,137.62 345.73,137.63 345.95,137.63 346.17,137.63 346.39,137.63 346.61,137.64 346.83,137.64 347.05,137.64 347.27,137.64 347.49,137.64 347.71,137.65 347.93,137.65 348.15,137.65 348.37,137.65 348.59,137.66 348.81,137.66 349.03,137.66 349.25,137.66 349.47,137.66 349.69,137.67 349.91,137.67 350.13,137.67 350.35,137.67 350.57,137.68 350.79,137.68 351.01,137.68 351.23,137.68 351.45,137.68 351.67,137.69 351.89,137.69 352.11,137.69 352.33,137.69 352.55,137.69 352.77,137.69 352.99,137.69 353.21,137.69 353.43,137.69 353.65,137.69 353.87,137.69 354.09,137.70 354.31,137.70 354.53,137.70 354.75,137.70 354.97,137.70 355.19,137.70 355.41,137.70 355.63,137.70 355.85,137.70 356.07,137.70 356.29,137.70 356.51,137.70 356.73,137.70 356.95,137.70 357.17,137.70 357.39,137.70 357.61,137.70 357.83,137.70 358.05,137.70 358.27,137.70 358.49,137.70 358.71,137.70 358.93,137.70 359.15,137.70 359.37,137.70 359.59,137.70 359.81,137.70 360.03,137.70 360.25,137.70 360.47,137.70 360.69,137.70 360.91,137.70 361.13,137.70 361.35,137.70 361.57,137.70 361.79,137.70 362.01,137.69 362.23,137.69 362.45,137.69 362.67,137.69 362.89,137.68 363.11,137.68 363.33,137.68 363.55,137.67 363.77,137.67 363.99,137.66 364.21,137.66 364.43,137.65 364.65,137.65 364.87,137.64 365.09,137.63 365.31,137.62 365.53,137.61 365.75,137.60 365.97,137.58 366.19,137.54 366.41,137.47 366.63,137.33 366.85,137.10 367.07,136.74 367.29,136.21 367.51,135.49 367.73,134.56 367.95,133.43 368.17,131.93 368.39,129.44 368.61,124.97 368.83,118.99 369.05,115.20 369.27,116.64 369.49,120.27 369.71,122.63 369.93,123.78 370.15,125.23 370.37,127.55 370.59,130.31 370.81,132.85 371.03,134.80 371.25,136.06 371.47,136.78 371.69,137.16 371.91,137.36 372.13,137.46 372.35,137.52 372.57,137.56 372.79,137.59 373.01,137.61 373.23,137.63 373.45,137.65 373.67,137.66 373.89,137.68 374.11,137.69 374.33,137.69 374.55,137.70 374.77,137.71 374.99,137.72 375.21,137.72 375.43,137.73 375.65,137.73 375.87,137.74 376.09,137.74 376.31,137.75 376.53,137.75 376.75,137.75 376.97,137.76 377.19,137.76 377.41,137.76 377.63,137.76"/>
<polyline transform="scale(0.9091,1)" fill="none" stroke="#3030ec" stroke-width="1.2" stroke-linejoin="round" points="27.83,205.99 28.05,205.99 28.27,205.98 28.49,205.98 28.71,205.97 28.93,205.97 29.15,205.96 29.37,205.96 29.59,205.95 29.81,205.95 30.03,205.94 30.25,205.93 30.47,205.93 30.69,205.92 30.91,205.92 31.13,205.91 31.35,205.91 31.57,205.90 31.79,205.90 32.01,205.89 32.23,205.89 32.45,205.88 32.67,205.88 32.89,205.87 33.11,205.87 33.33,205.86 33.55,205.86 33.77,205.85 33.99,205.85 34.21,205.84 34.43,205.84 34.65,205.83 34.87,205.83 35.09,205.82 35.31,205.82 35.53,205.81 35.75,205.81 35.97,205.80 36.19,205.80 36.41,205.79 36.63,205.79 36.85,205.78 37.07,205.78 37.29,205.77 37.51,205.77 37.73,205.76 37.95,205.76 38.17,205.75 38.39,205.75 38.61,205.74 38.83,205.74 39.05,205.73 39.27,205.73 39.49,205.72 39.71,205.72 39.93,205.71 40.15,205.71 40.37,205.70 40.59,205.70 40.81,205.69 41.03,205.69 41.25,205.68 41.47,205.68 41.69,205.67 41.91,205.67 42.13,205.66 42.35,205.66 42.57,205.65 42.79,205.65 43.01,205.64 43.23,205.64 43.45,205.63 43.67,205.63 43.89,205.62 44.11,205.62 44.33,205.61 44.55,205.61 44.77,205.60 44.99,205.60 45.21,205.59 45.43,205.59 45.65,205.58 45.87,205.58 46.09,205.57 46.31,205.57 46.53,205.56 46.75,205.56 46.97,205.55 47.19,205.55 47.41,205.54 47.63,205.54 47.85,205.53 48.07,205.52 48.29,205.52 48.51,205.51 48.73,205.51 48.95,205.50 49.17,205.50 49.39,205.49 49.61,205.49 49.83,205.49 50.05,205.48 50.27,205.48 50.49,205.47 50.71,205.47 50.93,205.46 51.15,205.46 51.37,205.46 51.59,205.45 51.81,205.45 52.03,205.44 52.25,205.44 52.47,205.43 52.69,205.43 52.91,205.43 53.13,205.42 53.35,205.42 53.57,205.41 53.79,205.41 54.01,205.40 54.23,205.40 54.45,205.40 54.67,205.39 54.89,205.39 55.11,205.38 55.33,205.38 55.55,205.37 55.77,205.37 55.99,205.36 56.21,205.36 56.43,205.35 56.65,205.35 56.87,205.35 57.09,205.34 57.31,205.34 57.53,205.33 57.75,205.33 57.97,205.32 58.19,205.32 58.41,205.31 58.63,205.31 58.85,205.30 59.07,205.30 59.29,205.29 59.51,205.29 59.73,205.28 59.95,205.28 60.17,205.27 60.39,205.26 60.61,205.26 60.83,205.25 61.05,205.25 61.27,205.24 61.49,205.24 61.71,205.23 61.93,205.22 62.15,205.22 62.37,205.21 62.59,205.20 62.81,205.19 63.03,205.19 63.25,205.18 63.47,205.17 63.69,205.16 63.91,205.15 64.13,205.14 64.35,205.13 64.57,205.12 64.79,205.10 65.01,205.09 65.23,205.07 65.45,205.06 65.67,205.04 65.89,205.02 66.11,204.97 66.33,204.91 66.55,204.83 66.77,204.75 66.99,204.65 67.21,204.54 67.43,204.38 67.65,204.16 67.87,203.84 68.09,203.37 68.31,202.70 68.53,201.76 68.75,200.51 68.97,198.81 69.19,196.21 69.41,191.18 69.63,181.06 69.85,164.83 70.07,148.42 70.29,144.00 70.51,155.85 70.73,173.39 70.95,186.71 71.17,193.88 71.39,197.35 71.61,199.34 71.83,200.73 72.05,201.76 72.27,202.50 72.49,203.00 72.71,203.33 72.93,203.54 73.15,203.67 73.37,203.74 73.59,203.79 73.81,203.83 74.03,203.88 74.25,203.91 74.47,203.94 74.69,203.97 74.91,204.00 75.13,204.02 75.35,204.04 75.57,204.06 75.79,204.08 76.01,204.10 76.23,204.12 76.45,204.13 76.67,204.15 76.89,204.16 77.11,204.18 77.33,204.19 77.55,204.21 77.77,204.22 77.99,204.24 78.21,204.25 78.43,204.26 78.65,204.27 78.87,204.29 79.09,204.30 79.31,204.31 79.53,204.32 79.75,204.34 79.97,204.35 80.19,204.36 80.41,204.37 80.63,204.38 80.85,204.39 81.07,204.40 81.29,204.42 81.51,204.43 81.73,204.44 81.95,204.45 82.17,204.46 82.39,204.47 82.61,204.48 82.83,204.49 83.05,204.50 83.27,204.51 83.49,204.52 83.71,204.52 83.93,204.53 84.15,204.54 84.37,204.55 84.59,204.56 84.81,204.57 85.03,204.58 85.25,204.58 85.47,204.59 85.69,204.60 85.91,204.61 86.13,204.62 86.35,204.63 86.57,204.63 86.79,204.64 87.01,204.65 87.23,204.66 87.45,204.67 87.67,204.68 87.89,204.68 88.11,204.69 88.33,204.70 88.55,204.71 88.77,204.72 88.99,204.73 89.21,204.73 89.43,204.74 89.65,204.75 89.87,204.76 90.09,204.77 90.31,204.77 90.53,204.78 90.75,204.79 90.97,204.80 91.19,204.81 91.41,204.82 91.63,204.82 91.85,204.83 92.07,204.84 92.29,204.85 92.51,204.86 92.73,204.86 92.95,204.87 93.17,204.88 93.39,204.89 93.61,204.90 93.83,204.90 94.05,204.91 94.27,204.92 94.49,204.93 94.71,204.94 94.93,204.95 95.15,204.95 95.37,204.96 95.59,204.97 95.81,204.98 96.03,204.99 96.25,204.99 96.47,205.00 96.69,205.01 96.91,205.02 97.13,205.03 97.35,205.03 97.57,205.04 97.79,205.05 98.01,205.06 98.23,205.07 98.45,205.07 98.67,205.08 98.89,205.09 99.11,205.10 99.33,205.11 99.55,205.12 99.77,205.12 99.99,205.13 100.21,205.14 100.43,205.15 100.65,205.16 100.87,205.16 101.09,205.17 101.31,205.18 101.53,205.19 101.75,205.20 101.97,205.20 102.19,205.21 102.41,205.22 102.63,205.23 102.85,205.24 103.07,205.24 103.29,205.25 103.51,205.26 103.73,205.27 103.95,205.28 104.17,205.28 104.39,205.29 104.61,205.30 104.83,205.31 105.05,205.31 105.27,205.32 105.49,205.33 105.71,205.33 105.93,205.34 106.15,205.35 106.37,205.35 106.59,205.36 106.81,205.37 107.03,205.38 107.25,205.38 107.47,205.39 107.69,205.40 107.91,205.40 108.13,205.41 108.35,205.42 108.57,205.42 108.79,205.43 109.01,205.44 109.23,205.44 109.45,205.45 109.67,205.46 109.89,205.46 110.11,205.47 110.33,205.48 110.55,205.49 110.77,205.49 110.99,205.50 111.21,205.51 111.43,205.51 111.65,205.52 111.87,205.53 112.09,205.53 112.31,205.54 112.53,205.55 112.75,205.55 112.97,205.56 113.19,205.57 113.41,205.57 113.63,205.58 113.85,205.59 114.07,205.60 114.29,205.60 114.51,205.61 114.73,205.62 114.95,205.62 115.17,205.63 115.39,205.64 115.61,205.64 115.83,205.65 116.05,205.66 116.27,205.66 116.49,205.67 116.71,205.68 116.93,205.68 117.15,205.69 117.37,205.70 117.59,205.71 117.81,205.71 118.03,205.72 118.25,205.73 118.47,205.73 118.69,205.74 118.91,205.75 119.13,205.75 119.35,205.76 119.57,205.77 119.79,205.77 120.01,205.78 120.23,205.79 120.45,205.79 120.67,205.80 120.89,205.81 121.11,205.81 121.33,205.82 121.55,205.83 121.77,205.84 121.99,205.84 122.21,205.85 122.43,205.86 122.65,205.86 122.87,205.87 123.09,205.88 123.31,205.88 123.53,205.89 123.75,205.90 123.97,205.90 124.19,205.91 124.41,205.92 124.63,205.92 124.85,205.93 125.07,205.94 125.29,205.95 125.51,205.95 125.73,205.96 125.95,205.97 126.17,205.97 126.39,205.98 126.61,205.99 126.83,205.99 127.05,206.00 127.27,206.01 127.49,206.01 127.71,206.02 127.93,206.03 128.15,206.03 128.37,206.04 128.59,206.05 128.81,206.05 129.03,206.06 129.25,206.07 129.47,206.08 129.69,206.08 129.91,206.09 130.13,206.10 130.35,206.10 130.57,206.11 130.79,206.12 131.01,206.12 131.23,206.13 131.45,206.14 131.67,206.14 131.89,206.15 132.11,206.16 132.33,206.16 132.55,206.17 132.77,206.18 132.99,206.18 133.21,206.19 133.43,206.20 133.65,206.21 133.87,206.21 134.09,206.22 134.31,206.23 134.53,206.23 134.75,206.24 134.97,206.25 135.19,206.25 135.41,206.26 135.63,206.27 135.85,206.27 136.07,206.28 136.29,206.29 136.51,206.29 136.73,206.30 136.95,206.31 137.17,206.31 137.39,206.32 137.61,206.33 137.83,206.34 138.05,206.34 138.27,206.35 138.49,206.36 138.71,206.36 138.93,206.37 139.15,206.38 139.37,206.38 139.59,206.39 139.81,206.40 140.03,206.40 140.25,206.41 140.47,206.42 140.69,206.42 140.91,206.43 141.13,206.44 141.35,206.44 141.57,206.45 141.79,206.46 142.01,206.46 142.23,206.47 142.45,206.48 142.67,206.48 142.89,206.49 143.11,206.50 143.33,206.50 143.55,206.50 143.77,206.51 143.99,206.51 144.21,206.51 144.43,206.52 144.65,206.52 144.87,206.53 145.09,206.53 145.31,206.53 145.53,206.54 145.75,206.54 145.97,206.54 146.19,206.55 146.41,206.55 146.63,206.55 146.85,206.56 147.07,206.56 147.29,206.56 147.51,206.57 147.73,206.57 147.95,206.58 148.17,206.58 148.39,206.58 148.61,206.59 148.83,206.59 149.05,206.59 149.27,206.60 149.49,206.60 149.71,206.60 149.93,206.61 150.15,206.61 150.37,206.61 150.59,206.62 150.81,206.62 151.03,206.62 151.25,206.63 151.47,206.63 151.69,206.63 151.91,206.64 152.13,206.64 152.35,206.64 152.57,206.65 152.79,206.65 153.01,206.65 153.23,206.65 153.45,206.66 153.67,206.66 153.89,206.66 154.11,206.67 154.33,206.67 154.55,206.67 154.77,206.67 154.99,206.68 155.21,206.68 155.43,206.68 155.65,206.68 155.87,206.68 156.09,206.68 156.31,206.68 156.53,206.69 156.75,206.69 156.97,206.68 157.19,206.68 157.41,206.68 157.63,206.68 157.85,206.67 158.07,206.67 158.29,206.66 158.51,206.64 158.73,206.62 158.95,206.57 159.17,206.47 159.39,206.28 159.61,205.93 159.83,205.34 160.05,204.45 160.27,203.27 160.49,201.88 160.71,200.52 160.93,199.49 161.15,199.10 161.37,199.49 161.59,200.53 161.81,201.90 162.03,203.29 162.25,204.48 162.47,205.37 162.69,205.97 162.91,206.32 163.13,206.52 163.35,206.62 163.57,206.68 163.79,206.70 164.01,206.72 164.23,206.73 164.45,206.73 164.67,206.72 164.89,206.70 165.11,206.64 165.33,206.54 165.55,206.38 165.77,206.16 165.99,205.91 166.21,205.66 166.43,205.47 166.65,205.40 166.87,205.47 167.09,205.65 167.31,205.89 167.53,206.12 167.75,206.30 167.97,206.36 168.19,206.28 168.41,205.97 168.63,205.36 168.85,204.39 169.07,203.08 169.29,201.59 169.51,200.23 169.73,199.40 169.95,199.41 170.17,200.25 170.39,201.62 170.61,203.13 170.83,204.45 171.05,205.45 171.27,206.11 171.49,206.49 171.71,206.69 171.93,206.80 172.15,206.85 172.37,206.88 172.59,206.90 172.81,206.92 173.03,206.93 173.25,206.94 173.47,206.95 173.69,206.96 173.91,206.97 174.13,206.97 174.35,206.98 174.57,206.98 174.79,206.99 175.01,207.00 175.23,207.00 175.45,207.01 175.67,207.01 175.89,207.01 176.11,207.02 176.33,207.02 176.55,207.03 176.77,207.03 176.99,207.03 177.21,207.04 177.43,207.04 177.65,207.04 177.87,207.05 178.09,207.05 178.31,207.06 178.53,207.06 178.75,207.06 178.97,207.07 179.19,207.07 179.41,207.07 179.63,207.07 179.85,207.08 180.07,207.08 180.29,207.08 180.51,207.09 180.73,207.09 180.95,207.09 181.17,207.10 181.39,207.10 181.61,207.10 181.83,207.11 182.05,207.11 182.27,207.11 182.49,207.11 182.71,207.12 182.93,207.12 183.15,207.12 183.37,207.13 183.59,207.13 183.81,207.13 184.03,207.13 184.25,207.14 184.47,207.14 184.69,207.14 184.91,207.15 185.13,207.15 185.35,207.15 185.57,207.15 185.79,207.16 186.01,207.16 186.23,207.16 186.45,207.16 186.67,207.17 186.89,207.17 187.11,207.17 187.33,207.17 187.55,207.18 187.77,207.18 187.99,207.18 188.21,207.18 188.43,207.19 188.65,207.19 188.87,207.19 189.09,207.19 189.31,207.20 189.53,207.20 189.75,207.20 189.97,207.20 190.19,207.20 190.41,207.21 190.63,207.21 190.85,207.21 191.07,207.21 191.29,207.21 191.51,207.22 191.73,207.22 191.95,207.22 192.17,207.22 192.39,207.22 192.61,207.22 192.83,207.22 193.05,207.22 193.27,207.22 193.49,207.22 193.71,207.22 193.93,207.22 194.15,207.22 194.37,207.22 194.59,207.22 194.81,207.22 195.03,207.21 195.25,207.21 195.47,207.20 195.69,207.19 195.91,207.19 196.13,207.18 196.35,207.17 196.57,207.16 196.79,207.14 197.01,207.11 197.23,207.05 197.45,206.95 197.67,206.74 197.89,206.33 198.11,205.59 198.33,204.35 198.55,202.49 198.77,199.99 198.99,197.07 199.21,194.19 199.43,192.02 199.65,191.20 199.87,192.03 200.09,194.22 200.31,197.11 200.53,200.04 200.75,202.55 200.97,204.43 201.19,205.69 201.41,206.44 201.63,206.86 201.85,207.08 202.07,207.20 202.29,207.27 202.51,207.31 202.73,207.34 202.95,207.37 203.17,207.39 203.39,207.41 203.61,207.43 203.83,207.45 204.05,207.46 204.27,207.48 204.49,207.49 204.71,207.50 204.93,207.52 205.15,207.53 205.37,207.54 205.59,207.55 205.81,207.56 206.03,207.57 206.25,207.58 206.47,207.58 206.69,207.59 206.91,207.60 207.13,207.61 207.35,207.62 207.57,207.63 207.79,207.63 208.01,207.64 208.23,207.65 208.45,207.66 208.67,207.67 208.89,207.67 209.11,207.68 209.33,207.68 209.55,207.69 209.77,207.69 209.99,207.69 210.21,207.70 210.43,207.70 210.65,207.70 210.87,207.71 211.09,207.71 211.31,207.71 211.53,207.72 211.75,207.72 211.97,207.72 212.19,207.73 212.41,207.73 212.63,207.73 212.85,207.74 213.07,207.74 213.29,207.74 213.51,207.75 213.73,207.75 213.95,207.75 214.17,207.75 214.39,207.76 214.61,207.76 214.83,207.76 215.05,207.76 215.27,207.77 215.49,207.77 215.71,207.77 215.93,207.77 216.15,207.77 216.37,207.78 216.59,207.78 216.81,207.78 217.03,207.78 217.25,207.78 217.47,207.77 217.69,207.77 217.91,207.75 218.13,207.73 218.35,207.68 218.57,207.62 218.79,207.52 219.01,207.39 219.23,207.21 219.45,207.01 219.67,206.79 219.89,206.57 220.11,206.38 220.33,206.24 220.55,206.20 220.77,206.25 220.99,206.39 221.21,206.58 221.43,206.81 221.65,207.04 221.87,207.25 222.09,207.43 222.31,207.57 222.53,207.67 222.75,207.75 222.97,207.79 223.19,207.83 223.41,207.85 223.63,207.86 223.85,207.87 224.07,207.88 224.29,207.88 224.51,207.89 224.73,207.89 224.95,207.90 225.17,207.90 225.39,207.91 225.61,207.91 225.83,207.91 226.05,207.92 226.27,207.92 226.49,207.93 226.71,207.93 226.93,207.93 227.15,207.94 227.37,207.94 227.59,207.94 227.81,207.95 228.03,207.95 228.25,207.95 228.47,207.96 228.69,207.96 228.91,207.96 229.13,207.97 229.35,207.97 229.57,207.97 229.79,207.98 230.01,207.98 230.23,207.98 230.45,207.99 230.67,207.99 230.89,207.99 231.11,207.99 231.33,208.00 231.55,208.00 231.77,208.00 231.99,208.00 232.21,208.00 232.43,208.00 232.65,208.00 232.87,208.01 233.09,208.01 233.31,208.01 233.53,208.01 233.75,208.01 233.97,208.01 234.19,208.01 234.41,208.02 234.63,208.02 234.85,208.02 235.07,208.02 235.29,208.02 235.51,208.02 235.73,208.02 235.95,208.03 236.17,208.03 236.39,208.03 236.61,208.03 236.83,208.03 237.05,208.03 237.27,208.03 237.49,208.03 237.71,208.04 237.93,208.04 238.15,208.04 238.37,208.04 238.59,208.04 238.81,208.04 239.03,208.04 239.25,208.05 239.47,208.05 239.69,208.05 239.91,208.05 240.13,208.05 240.35,208.05 240.57,208.05 240.79,208.05 241.01,208.06 241.23,208.06 241.45,208.06 241.67,208.06 241.89,208.06 242.11,208.06 242.33,208.06 242.55,208.07 242.77,208.07 242.99,208.07 243.21,208.07 243.43,208.07 243.65,208.07 243.87,208.07 244.09,208.08 244.31,208.08 244.53,208.08 244.75,208.08 244.97,208.08 245.19,208.08 245.41,208.08 245.63,208.08 245.85,208.09 246.07,208.09 246.29,208.09 246.51,208.09 246.73,208.09 246.95,208.09 247.17,208.09 247.39,208.09 247.61,208.10 247.83,208.10 248.05,208.10 248.27,208.10 248.49,208.10 248.71,208.10 248.93,208.10 249.15,208.10 249.37,208.10 249.59,208.10 249.81,208.10 250.03,208.10 250.25,208.10 250.47,208.10 250.69,208.10 250.91,208.10 251.13,208.10 251.35,208.11 251.57,208.11 251.79,208.11 252.01,208.11 252.23,208.11 252.45,208.11 252.67,208.11 252.89,208.11 253.11,208.11 253.33,208.11 253.55,208.11 253.77,208.11 253.99,208.11 254.21,208.11 254.43,208.11 254.65,208.11 254.87,208.11 255.09,208.11 255.31,208.11 255.53,208.12 255.75,208.12 255.97,208.12 256.19,208.12 256.41,208.12 256.63,208.12 256.85,208.12 257.07,208.12 257.29,208.12 257.51,208.12 257.73,208.12 257.95,208.12 258.17,208.12 258.39,208.12 258.61,208.12 258.83,208.12 259.05,208.12 259.27,208.12 259.49,208.12 259.71,208.12 259.93,208.12 260.15,208.13 260.37,208.13 260.59,208.13 260.81,208.13 261.03,208.13 261.25,208.13 261.47,208.13 261.69,208.13 261.91,208.13 262.13,208.13 262.35,208.13 262.57,208.13 262.79,208.13 263.01,208.13 263.23,208.13 263.45,208.13 263.67,208.13 263.89,208.13 264.11,208.13 264.33,208.13 264.55,208.13 264.77,208.13 264.99,208.13 265.21,208.13 265.43,208.13 265.65,208.13 265.87,208.13 266.09,208.13 266.31,208.13 266.53,208.12 266.75,208.12 266.97,208.12 267.19,208.11 267.41,208.10 267.63,208.08 267.85,208.06 268.07,208.02 268.29,207.97 268.51,207.91 268.73,207.82 268.95,207.71 269.17,207.59 269.39,207.45 269.61,207.31 269.83,207.16 270.05,207.04 270.27,206.95 270.49,206.90 270.71,206.90 270.93,206.95 271.15,207.04 271.37,207.17 271.59,207.31 271.81,207.46 272.03,207.59 272.25,207.72 272.47,207.83 272.69,207.92 272.91,207.98 273.13,208.03 273.35,208.07 273.57,208.10 273.79,208.11 274.01,208.13 274.23,208.13 274.45,208.14 274.67,208.14 274.89,208.15 275.11,208.15 275.33,208.15 275.55,208.15 275.77,208.15 275.99,208.15 276.21,208.15 276.43,208.16 276.65,208.16 276.87,208.16 277.09,208.16 277.31,208.16 277.53,208.16 277.75,208.16 277.97,208.16 278.19,208.16 278.41,208.16 278.63,208.16 278.85,208.16 279.07,208.17 279.29,208.17 279.51,208.17 279.73,208.17 279.95,208.17 280.17,208.17 280.39,208.17 280.61,208.17 280.83,208.17 281.05,208.17 281.27,208.17 281.49,208.17 281.71,208.17 281.93,208.17 282.15,208.17 282.37,208.17 282.59,208.17 282.81,208.17 283.03,208.17 283.25,208.17 283.47,208.17 283.69,208.17 283.91,208.17 284.13,208.17 284.35,208.18 284.57,208.18 284.79,208.18 285.01,208.18 285.23,208.18 285.45,208.18 285.67,208.18 285.89,208.18 286.11,208.18 286.33,208.17 286.55,208.17 286.77,208.17 286.99,208.17 287.21,208.16 287.43,208.16 287.65,208.16 287.87,208.16 288.09,208.16 288.31,208.15 288.53,208.15 288.75,208.15 288.97,208.15 289.19,208.14 289.41,208.14 289.63,208.14 289.85,208.13 290.07,208.13 290.29,208.13 290.51,208.13 290.73,208.12 290.95,208.12 291.17,208.12 291.39,208.11 291.61,208.11 291.83,208.11 292.05,208.10 292.27,208.10 292.49,208.10 292.71,208.09 292.93,208.09 293.15,208.08 293.37,208.08 293.59,208.08 293.81,208.07 294.03,208.07 294.25,208.06 294.47,208.06 294.69,208.05 294.91,208.04 295.13,208.04 295.35,208.03 295.57,208.02 295.79,208.01 296.01,208.00 296.23,207.99 296.45,207.98 296.67,207.96 296.89,207.93 297.11,207.88 297.33,207.80 297.55,207.68 297.77,207.51 297.99,207.28 298.21,207.01 298.43,206.73 298.65,206.48 298.87,206.32 299.09,206.30 299.31,206.40 299.53,206.60 299.75,206.82 299.97,207.02 300.19,207.16 300.41,207.21 300.63,207.16 300.85,206.98 301.07,206.66 301.29,206.16 301.51,205.43 301.73,204.42 301.95,203.09 302.17,201.37 302.39,199.06 302.61,195.53 302.83,189.58 303.05,180.13 303.27,168.12 303.49,157.83 303.71,154.50 303.93,158.02 304.15,163.24 304.37,166.71 304.59,168.96 304.81,172.38 305.03,178.08 305.25,185.22 305.47,192.25 305.69,198.01 305.91,202.05 306.13,204.55 306.35,205.94 306.57,206.67 306.79,207.05 307.01,207.26 307.23,207.39 307.45,207.49 307.67,207.55 307.89,207.61 308.11,207.65 308.33,207.69 308.55,207.72 308.77,207.75 308.99,207.77 309.21,207.79 309.43,207.81 309.65,207.82 309.87,207.83 310.09,207.85 310.31,207.86 310.53,207.87 310.75,207.87 310.97,207.88 311.19,207.89 311.41,207.89 311.63,207.90 311.85,207.90 312.07,207.91 312.29,207.91 312.51,207.91 312.73,207.92 312.95,207.92 313.17,207.92 313.39,207.92 313.61,207.93 313.83,207.93 314.05,207.94 314.27,207.94 314.49,207.95 314.71,207.95 314.93,207.96 315.15,207.96 315.37,207.97 315.59,207.97 315.81,207.98 316.03,207.98 316.25,207.98 316.47,207.99 316.69,207.99 316.91,207.99 317.13,207.99 317.35,207.98 317.57,207.97 317.79,207.95 318.01,207.93 318.23,207.90 318.45,207.86 318.67,207.81 318.89,207.75 319.11,207.70 319.33,207.65 319.55,207.62 319.77,207.60 319.99,207.60 320.21,207.63 320.43,207.67 320.65,207.73 320.87,207.79 321.09,207.85 321.31,207.90 321.53,207.95 321.75,207.99 321.97,208.02 322.19,208.05 322.41,208.06 322.63,208.08 322.85,208.09 323.07,208.09 323.29,208.10 323.51,208.10 323.73,208.11 323.95,208.11 324.17,208.12 324.39,208.12 324.61,208.12 324.83,208.13 325.05,208.13 325.27,208.13 325.49,208.14 325.71,208.14 325.93,208.14 326.15,208.15 326.37,208.15 326.59,208.15 326.81,208.16 327.03,208.16 327.25,208.16 327.47,208.17 327.69,208.17 327.91,208.17 328.13,208.18 328.35,208.18 328.57,208.18 328.79,208.18 329.01,208.19 329.23,208.19 329.45,208.19 329.67,208.20 329.89,208.20 330.11,208.20 330.33,208.21 330.55,208.21 330.77,208.21 330.99,208.22 331.21,208.22 331.43,208.22 331.65,208.22 331.87,208.23 332.09,208.23 332.31,208.23 332.53,208.24 332.75,208.24 332.97,208.24 333.19,208.25 333.41,208.25 333.63,208.25 333.85,208.25 334.07,208.26 334.29,208.26 334.51,208.26 334.73,208.27 334.95,208.27 335.17,208.27 335.39,208.27 335.61,208.28 335.83,208.28 336.05,208.28 336.27,208.29 336.49,208.29 336.71,208.29 336.93,208.30 337.15,208.30 337.37,208.30 337.59,208.30 337.81,208.31 338.03,208.31 338.25,208.31 338.47,208.32 338.69,208.32 338.91,208.32 339.13,208.32 339.35,208.33 339.57,208.33 339.79,208.33 340.01,208.34 340.23,208.34 340.45,208.34 340.67,208.34 340.89,208.35 341.11,208.35 341.33,208.35 341.55,208.36 341.77,208.36 341.99,208.36 342.21,208.36 342.43,208.37 342.65,208.37 342.87,208.37 343.09,208.38 343.31,208.38 343.53,208.38 343.75,208.38 343.97,208.39 344.19,208.39 344.41,208.39 344.63,208.40 344.85,208.40 345.07,208.40 345.29,208.40 345.51,208.41 345.73,208.41 345.95,208.41 346.17,208.42 346.39,208.42 346.61,208.42 346.83,208.42 347.05,208.43 347.27,208.43 347.49,208.43 347.71,208.44 347.93,208.44 348.15,208.44 348.37,208.44 348.59,208.45 348.81,208.45 349.03,208.45 349.25,208.45 349.47,208.46 349.69,208.46 349.91,208.46 350.13,208.47 350.35,208.47 350.57,208.47 350.79,208.47 351.01,208.48 351.23,208.48 351.45,208.48 351.67,208.49 351.89,208.49 352.11,208.49 352.33,208.49 352.55,208.49 352.77,208.50 352.99,208.50 353.21,208.50 353.43,208.50 353.65,208.51 353.87,208.51 354.09,208.51 354.31,208.51 354.53,208.52 354.75,208.52 354.97,208.52 355.19,208.52 355.41,208.52 355.63,208.53 355.85,208.53 356.07,208.53 356.29,208.53 356.51,208.53 356.73,208.54 356.95,208.54 357.17,208.54 357.39,208.54 357.61,208.54 357.83,208.55 358.05,208.55 358.27,208.55 358.49,208.55 358.71,208.55 358.93,208.56 359.15,208.56 359.37,208.56 359.59,208.56 359.81,208.56 360.03,208.56 360.25,208.56 360.47,208.57 360.69,208.57 360.91,208.57 361.13,208.57 361.35,208.57 361.57,208.57 361.79,208.57 362.01,208.57 362.23,208.57 362.45,208.57 362.67,208.57 362.89,208.57 363.11,208.57 363.33,208.56 363.55,208.56 363.77,208.56 363.99,208.56 364.21,208.55 364.43,208.55 364.65,208.54 364.87,208.54 365.09,208.53 365.31,208.53 365.53,208.53 365.75,208.53 365.97,208.53 366.19,208.52 366.41,208.48 366.63,208.38 366.85,208.20 367.07,207.89 367.29,207.43 367.51,206.77 367.73,205.91 367.95,204.79 368.17,203.18 368.39,200.44 368.61,195.59 368.83,188.73 369.05,182.67 369.27,181.70 369.49,185.88 369.71,191.14 369.93,194.99 370.15,197.65 370.37,200.04 370.59,202.39 370.81,204.47 371.03,206.06 371.25,207.12 371.47,207.75 371.69,208.10 371.91,208.29 372.13,208.40 372.35,208.47 372.57,208.51 372.79,208.55 373.01,208.57 373.23,208.59 373.45,208.61 373.67,208.63 373.89,208.64 374.11,208.65 374.33,208.66 374.55,208.67 374.77,208.68 374.99,208.69 375.21,208.70 375.43,208.71 375.65,208.71 375.87,208.72 376.09,208.72 376.31,208.73 376.53,208.74 376.75,208.74 376.97,208.75 377.19,208.75 377.41,208.75 377.63,208.76"/>
<line x1="64.8" y1="212" x2="64.8" y2="219.8" stroke="#f5ae66" stroke-width="1.25"/>
<line x1="146.9" y1="212" x2="146.9" y2="219.8" stroke="#f5ae66" stroke-width="1.25"/>
<line x1="152.9" y1="212" x2="152.9" y2="219.8" stroke="#f5ae66" stroke-width="1.25"/>
<line x1="154.2" y1="212" x2="154.2" y2="219.8" stroke="#f5ae66" stroke-width="1.25"/>
<line x1="182.5" y1="212" x2="182.5" y2="219.8" stroke="#f5ae66" stroke-width="1.25"/>
<line x1="201.6" y1="212" x2="201.6" y2="219.8" stroke="#f5ae66" stroke-width="1.25"/>
<line x1="247.0" y1="212" x2="247.0" y2="219.8" stroke="#f5ae66" stroke-width="1.25"/>
<line x1="273.7" y1="212" x2="273.7" y2="219.8" stroke="#f5ae66" stroke-width="1.25"/>
<line x1="276.0" y1="212" x2="276.0" y2="219.8" stroke="#f5ae66" stroke-width="1.25"/>
<line x1="290.8" y1="212" x2="290.8" y2="219.8" stroke="#f5ae66" stroke-width="1.25"/>
<line x1="330.7" y1="212" x2="330.7" y2="219.8" stroke="#f5ae66" stroke-width="1.25"/>
<line x1="332.6" y1="212" x2="332.6" y2="219.8" stroke="#f5ae66" stroke-width="1.25"/>
<line x1="334.5" y1="212" x2="334.5" y2="219.8" stroke="#f5ae66" stroke-width="1.25"/>
<line x1="335.9" y1="212" x2="335.9" y2="219.8" stroke="#f5ae66" stroke-width="1.25"/>
<polygon points="154.40,54.30 154.96,55.73 156.49,55.82 155.30,56.79 155.69,58.28 154.40,57.45 153.11,58.28 153.50,56.79 152.31,55.82 153.84,55.73" fill="#111"/>
<polygon points="181.80,45.90 182.36,47.33 183.89,47.42 182.70,48.39 183.09,49.88 181.80,49.05 180.51,49.88 180.90,48.39 179.71,47.42 181.24,47.33" fill="#111"/>
<polygon points="279.50,8.20 280.06,9.63 281.59,9.72 280.40,10.69 280.79,12.18 279.50,11.35 278.21,12.18 278.60,10.69 277.41,9.72 278.94,9.63" fill="#111"/>
<polygon points="334.50,35.10 335.06,36.53 336.59,36.62 335.40,37.59 335.79,39.08 334.50,38.25 333.21,39.08 333.60,37.59 332.41,36.62 333.94,36.53" fill="#111"/>
<polygon points="154.40,122.20 154.96,123.63 156.49,123.72 155.30,124.69 155.69,126.18 154.40,125.35 153.11,126.18 153.50,124.69 152.31,123.72 153.84,123.63" fill="#111"/>
<polygon points="181.80,111.60 182.36,113.03 183.89,113.12 182.70,114.09 183.09,115.58 181.80,114.75 180.51,115.58 180.90,114.09 179.71,113.12 181.24,113.03" fill="#111"/>
<polygon points="279.60,75.80 280.16,77.23 281.69,77.32 280.50,78.29 280.89,79.78 279.60,78.95 278.31,79.78 278.70,78.29 277.51,77.32 279.04,77.23" fill="#111"/>
<polygon points="334.80,107.20 335.36,108.63 336.89,108.72 335.70,109.69 336.09,111.18 334.80,110.35 333.51,111.18 333.90,109.69 332.71,108.72 334.24,108.63" fill="#111"/>
<polygon points="154.40,193.00 154.96,194.43 156.49,194.52 155.30,195.49 155.69,196.98 154.40,196.15 153.11,196.98 153.50,195.49 152.31,194.52 153.84,194.43" fill="#111"/>
<polygon points="181.80,183.50 182.36,184.93 183.89,185.02 182.70,185.99 183.09,187.48 181.80,186.65 180.51,187.48 180.90,185.99 179.71,185.02 181.24,184.93" fill="#111"/>
<polygon points="280.60,150.70 281.16,152.13 282.69,152.22 281.50,153.19 281.89,154.68 280.60,153.85 279.31,154.68 279.70,153.19 278.51,152.22 280.04,152.13" fill="#111"/>
<polygon points="334.60,174.90 335.16,176.33 336.69,176.42 335.50,177.39 335.89,178.88 334.60,178.05 333.31,178.88 333.70,177.39 332.51,176.42 334.04,176.33" fill="#111"/>
<line x1="24" y1="1.8" x2="344.7" y2="1.8" stroke="#3c3c3c" stroke-width="1.3"/>
<line x1="24" y1="226.8" x2="344.7" y2="226.8" stroke="#5c5c5c" stroke-width="1.5"/>
<line x1="24.7" y1="1.2" x2="24.7" y2="227.5" stroke="#6c6c6c" stroke-width="1.4"/>
<line x1="344" y1="1.2" x2="344" y2="227.5" stroke="#727272" stroke-width="1.4"/>
<line x1="70.29" y1="226.7" x2="70.29" y2="224.3" stroke="#3c3c3c" stroke-width="1.1"/>
<line x1="115.87" y1="226.7" x2="115.87" y2="224.3" stroke="#3c3c3c" stroke-width="1.1"/>
<line x1="161.46" y1="226.7" x2="161.46" y2="224.3" stroke="#3c3c3c" stroke-width="1.1"/>
<line x1="207.04" y1="226.7" x2="207.04" y2="224.3" stroke="#3c3c3c" stroke-width="1.1"/>
<line x1="252.63" y1="226.7" x2="252.63" y2="224.3" stroke="#3c3c3c" stroke-width="1.1"/>
<line x1="298.21" y1="226.7" x2="298.21" y2="224.3" stroke="#3c3c3c" stroke-width="1.1"/>
<text x="24.70" y="237" font-size="9.1" font-weight="bold" text-anchor="middle" fill="#111" stroke="#111" stroke-width="0.2">10</text>
<text x="70.29" y="237" font-size="9.1" font-weight="bold" text-anchor="middle" fill="#111" stroke="#111" stroke-width="0.2">20</text>
<text x="115.87" y="237" font-size="9.1" font-weight="bold" text-anchor="middle" fill="#111" stroke="#111" stroke-width="0.2">30</text>
<text x="161.46" y="237" font-size="9.1" font-weight="bold" text-anchor="middle" fill="#111" stroke="#111" stroke-width="0.2">40</text>
<text x="207.04" y="237" font-size="9.1" font-weight="bold" text-anchor="middle" fill="#111" stroke="#111" stroke-width="0.2">50</text>
<text x="252.63" y="237" font-size="9.1" font-weight="bold" text-anchor="middle" fill="#111" stroke="#111" stroke-width="0.2">60</text>
<text x="298.21" y="237" font-size="9.1" font-weight="bold" text-anchor="middle" fill="#111" stroke="#111" stroke-width="0.2">70</text>
<text x="343.80" y="237" font-size="9.1" font-weight="bold" text-anchor="middle" fill="#111" stroke="#111" stroke-width="0.2">80</text>
<polygon points="110.40,10.60 110.96,12.03 112.49,12.12 111.30,13.09 111.69,14.58 110.40,13.75 109.11,14.58 109.50,13.09 108.31,12.12 109.84,12.03" fill="#111"/>
<text x="117.3" y="16.1" font-size="9.4" fill="#222" stroke="#222" stroke-width="0.2">Al</text>
<line x1="110.1" y1="20.0" x2="110.1" y2="28.0" stroke="#f7931e" stroke-width="1.3"/>
<text x="117.3" y="26.9" font-size="9.4" fill="#222" stroke="#222" stroke-width="0.15">Bragg position for R-3m</text>
<text x="81.9" y="61.1" font-size="7.4" font-weight="bold" fill="#111" stroke="#111" stroke-width="0.25">811-pristine</text>
<text x="81.9" y="129.4" font-size="7.2" font-weight="bold" fill="#111" stroke="#111" stroke-width="0.25">811-Na1+Mg1</text>
<text x="81.9" y="192.8" font-size="7.3" font-weight="bold" fill="#111" stroke="#111" stroke-width="0.25">811-Na2+Mg2</text>
<text transform="translate(14.3,110.3) rotate(-90)" font-size="11.3" font-weight="bold" text-anchor="middle" fill="#111" stroke="#111" stroke-width="0.2">Intensity (a.u.)</text>
<text x="171" y="256.2" font-size="11" font-weight="bold" fill="#111" stroke="#111" stroke-width="0.3">2<tspan font-style="italic" font-size="12">θ</tspan></text>
<text x="188.0" y="256.4" font-size="11.8" font-weight="bold" fill="#111" stroke="#111" stroke-width="0.15">(°)</text>
</g>
</svg></body></html>
